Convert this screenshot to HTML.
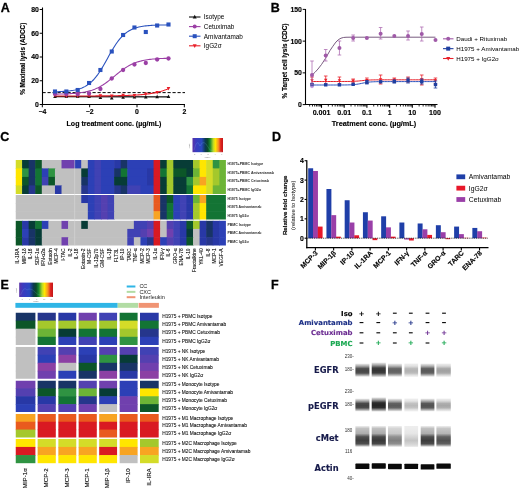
<!DOCTYPE html>
<html><head><meta charset="utf-8"><title>Figure</title>
<style>
html,body{margin:0;padding:0;background:#fff;}
svg{display:block;}
</style></head>
<body>
<svg width="520" height="488" viewBox="0 0 520 488">
<defs>
<linearGradient id="cbar" x1="0" x2="1" y1="0" y2="0">
<stop offset="0" stop-color="#5a32a8"/>
<stop offset="0.12" stop-color="#3a3cc0"/>
<stop offset="0.30" stop-color="#2a48c0"/>
<stop offset="0.42" stop-color="#0c3a50"/>
<stop offset="0.50" stop-color="#0a4a28"/>
<stop offset="0.58" stop-color="#1a8a30"/>
<stop offset="0.68" stop-color="#b8d828"/>
<stop offset="0.75" stop-color="#ffe800"/>
<stop offset="0.85" stop-color="#f89020"/>
<stop offset="0.93" stop-color="#e02020"/>
<stop offset="1" stop-color="#c01818"/>
</linearGradient>
<linearGradient id="bg0" x1="0" x2="0" y1="0" y2="1"><stop offset="0" stop-color="#eeeeee"/><stop offset="0.18" stop-color="#acacac"/><stop offset="0.38" stop-color="#4e4e4e"/><stop offset="0.55" stop-color="#464646"/><stop offset="0.72" stop-color="#505050"/><stop offset="0.88" stop-color="#acacac"/><stop offset="1" stop-color="#f0f0f0"/></linearGradient>
<linearGradient id="bg1" x1="0" x2="0" y1="0" y2="1"><stop offset="0" stop-color="#eeeeee"/><stop offset="0.18" stop-color="#a3a3a3"/><stop offset="0.38" stop-color="#3c3c3c"/><stop offset="0.55" stop-color="#343434"/><stop offset="0.72" stop-color="#3e3e3e"/><stop offset="0.88" stop-color="#a3a3a3"/><stop offset="1" stop-color="#f0f0f0"/></linearGradient>
<linearGradient id="bg2" x1="0" x2="0" y1="0" y2="1"><stop offset="0" stop-color="#eeeeee"/><stop offset="0.18" stop-color="#b9b9b9"/><stop offset="0.38" stop-color="#686868"/><stop offset="0.55" stop-color="#606060"/><stop offset="0.72" stop-color="#6a6a6a"/><stop offset="0.88" stop-color="#b9b9b9"/><stop offset="1" stop-color="#f0f0f0"/></linearGradient>
<linearGradient id="bg3" x1="0" x2="0" y1="0" y2="1"><stop offset="0" stop-color="#eeeeee"/><stop offset="0.18" stop-color="#e2e2e2"/><stop offset="0.38" stop-color="#bababa"/><stop offset="0.55" stop-color="#b2b2b2"/><stop offset="0.72" stop-color="#bcbcbc"/><stop offset="0.88" stop-color="#e2e2e2"/><stop offset="1" stop-color="#f0f0f0"/></linearGradient>
<linearGradient id="bg4" x1="0" x2="0" y1="0" y2="1"><stop offset="0" stop-color="#eeeeee"/><stop offset="0.18" stop-color="#b5b5b5"/><stop offset="0.38" stop-color="#606060"/><stop offset="0.55" stop-color="#585858"/><stop offset="0.72" stop-color="#626262"/><stop offset="0.88" stop-color="#b5b5b5"/><stop offset="1" stop-color="#f0f0f0"/></linearGradient>
<linearGradient id="bg5" x1="0" x2="0" y1="0" y2="1"><stop offset="0" stop-color="#eeeeee"/><stop offset="0.18" stop-color="#d9d9d9"/><stop offset="0.38" stop-color="#a8a8a8"/><stop offset="0.55" stop-color="#a0a0a0"/><stop offset="0.72" stop-color="#aaaaaa"/><stop offset="0.88" stop-color="#d9d9d9"/><stop offset="1" stop-color="#f0f0f0"/></linearGradient>
<linearGradient id="bg10" x1="0" x2="0" y1="0" y2="1"><stop offset="0" stop-color="#eeeeee"/><stop offset="0.18" stop-color="#aaaaaa"/><stop offset="0.38" stop-color="#4a4a4a"/><stop offset="0.55" stop-color="#424242"/><stop offset="0.72" stop-color="#4c4c4c"/><stop offset="0.88" stop-color="#aaaaaa"/><stop offset="1" stop-color="#f0f0f0"/></linearGradient>
<linearGradient id="bg11" x1="0" x2="0" y1="0" y2="1"><stop offset="0" stop-color="#eeeeee"/><stop offset="0.18" stop-color="#9b9b9b"/><stop offset="0.38" stop-color="#2c2c2c"/><stop offset="0.55" stop-color="#242424"/><stop offset="0.72" stop-color="#2e2e2e"/><stop offset="0.88" stop-color="#9b9b9b"/><stop offset="1" stop-color="#f0f0f0"/></linearGradient>
<linearGradient id="bg12" x1="0" x2="0" y1="0" y2="1"><stop offset="0" stop-color="#eeeeee"/><stop offset="0.18" stop-color="#b6b6b6"/><stop offset="0.38" stop-color="#626262"/><stop offset="0.55" stop-color="#5a5a5a"/><stop offset="0.72" stop-color="#646464"/><stop offset="0.88" stop-color="#b6b6b6"/><stop offset="1" stop-color="#f0f0f0"/></linearGradient>
<linearGradient id="bg13" x1="0" x2="0" y1="0" y2="1"><stop offset="0" stop-color="#eeeeee"/><stop offset="0.18" stop-color="#e6e6e6"/><stop offset="0.38" stop-color="#c2c2c2"/><stop offset="0.55" stop-color="#bababa"/><stop offset="0.72" stop-color="#c4c4c4"/><stop offset="0.88" stop-color="#e6e6e6"/><stop offset="1" stop-color="#f0f0f0"/></linearGradient>
<linearGradient id="bg14" x1="0" x2="0" y1="0" y2="1"><stop offset="0" stop-color="#eeeeee"/><stop offset="0.18" stop-color="#b2b2b2"/><stop offset="0.38" stop-color="#5a5a5a"/><stop offset="0.55" stop-color="#525252"/><stop offset="0.72" stop-color="#5c5c5c"/><stop offset="0.88" stop-color="#b2b2b2"/><stop offset="1" stop-color="#f0f0f0"/></linearGradient>
<linearGradient id="bg15" x1="0" x2="0" y1="0" y2="1"><stop offset="0" stop-color="#eeeeee"/><stop offset="0.18" stop-color="#dcdcdc"/><stop offset="0.38" stop-color="#aeaeae"/><stop offset="0.55" stop-color="#a6a6a6"/><stop offset="0.72" stop-color="#b0b0b0"/><stop offset="0.88" stop-color="#dcdcdc"/><stop offset="1" stop-color="#f0f0f0"/></linearGradient>
<linearGradient id="bg20" x1="0" x2="0" y1="0" y2="1"><stop offset="0" stop-color="#eeeeee"/><stop offset="0.12" stop-color="#c1c1c1"/><stop offset="0.36" stop-color="#adadad"/><stop offset="0.52" stop-color="#505050"/><stop offset="0.7" stop-color="#3e3e3e"/><stop offset="0.86" stop-color="#4e4e4e"/><stop offset="1" stop-color="#e6e6e6"/></linearGradient>
<linearGradient id="bg21" x1="0" x2="0" y1="0" y2="1"><stop offset="0" stop-color="#eeeeee"/><stop offset="0.12" stop-color="#bfbfbf"/><stop offset="0.36" stop-color="#ababab"/><stop offset="0.52" stop-color="#4a4a4a"/><stop offset="0.7" stop-color="#383838"/><stop offset="0.86" stop-color="#484848"/><stop offset="1" stop-color="#e6e6e6"/></linearGradient>
<linearGradient id="bg22" x1="0" x2="0" y1="0" y2="1"><stop offset="0" stop-color="#eeeeee"/><stop offset="0.12" stop-color="#d5d5d5"/><stop offset="0.36" stop-color="#c8c8c8"/><stop offset="0.52" stop-color="#909090"/><stop offset="0.7" stop-color="#7e7e7e"/><stop offset="0.86" stop-color="#8e8e8e"/><stop offset="1" stop-color="#e6e6e6"/></linearGradient>
<linearGradient id="bg23" x1="0" x2="0" y1="0" y2="1"><stop offset="0" stop-color="#eeeeee"/><stop offset="0.12" stop-color="#ececec"/><stop offset="0.36" stop-color="#e6e6e6"/><stop offset="0.52" stop-color="#d6d6d6"/><stop offset="0.7" stop-color="#c4c4c4"/><stop offset="0.86" stop-color="#d4d4d4"/><stop offset="1" stop-color="#e6e6e6"/></linearGradient>
<linearGradient id="bg24" x1="0" x2="0" y1="0" y2="1"><stop offset="0" stop-color="#eeeeee"/><stop offset="0.12" stop-color="#c0c0c0"/><stop offset="0.36" stop-color="#adadad"/><stop offset="0.52" stop-color="#4e4e4e"/><stop offset="0.7" stop-color="#3c3c3c"/><stop offset="0.86" stop-color="#4c4c4c"/><stop offset="1" stop-color="#e6e6e6"/></linearGradient>
<linearGradient id="bg25" x1="0" x2="0" y1="0" y2="1"><stop offset="0" stop-color="#eeeeee"/><stop offset="0.12" stop-color="#c7c7c7"/><stop offset="0.36" stop-color="#b5b5b5"/><stop offset="0.52" stop-color="#626262"/><stop offset="0.7" stop-color="#505050"/><stop offset="0.86" stop-color="#606060"/><stop offset="1" stop-color="#e6e6e6"/></linearGradient>

<clipPath id="clp1"><rect x="15.50" y="159.90" width="210.40" height="34.00"/></clipPath>
<clipPath id="clp2"><rect x="15.50" y="194.90" width="210.40" height="24.50"/></clipPath>
<clipPath id="clp3"><rect x="15.50" y="220.60" width="210.40" height="24.90"/></clipPath>
<clipPath id="clp4"><rect x="15.50" y="312.50" width="19.90" height="32.40"/><rect x="37.40" y="312.50" width="18.40" height="32.40"/><rect x="58.20" y="312.50" width="18.10" height="32.40"/><rect x="78.40" y="312.50" width="18.40" height="32.40"/><rect x="99.10" y="312.50" width="18.00" height="32.40"/><rect x="119.40" y="312.50" width="18.20" height="32.40"/><rect x="140.00" y="312.50" width="18.70" height="32.40"/></clipPath>
<clipPath id="clp5"><rect x="15.50" y="346.80" width="19.90" height="32.00"/><rect x="37.40" y="346.80" width="18.40" height="32.00"/><rect x="58.20" y="346.80" width="18.10" height="32.00"/><rect x="78.40" y="346.80" width="18.40" height="32.00"/><rect x="99.10" y="346.80" width="18.00" height="32.00"/><rect x="119.40" y="346.80" width="18.20" height="32.00"/><rect x="140.00" y="346.80" width="18.70" height="32.00"/></clipPath>
<clipPath id="clp6"><rect x="15.50" y="380.50" width="19.90" height="31.50"/><rect x="37.40" y="380.50" width="18.40" height="31.50"/><rect x="58.20" y="380.50" width="18.10" height="31.50"/><rect x="78.40" y="380.50" width="18.40" height="31.50"/><rect x="99.10" y="380.50" width="18.00" height="31.50"/><rect x="119.40" y="380.50" width="18.20" height="31.50"/><rect x="140.00" y="380.50" width="18.70" height="31.50"/></clipPath>
<clipPath id="clp7"><rect x="15.50" y="413.90" width="19.90" height="23.50"/><rect x="37.40" y="413.90" width="18.40" height="23.50"/><rect x="58.20" y="413.90" width="18.10" height="23.50"/><rect x="78.40" y="413.90" width="18.40" height="23.50"/><rect x="99.10" y="413.90" width="18.00" height="23.50"/><rect x="119.40" y="413.90" width="18.20" height="23.50"/><rect x="140.00" y="413.90" width="18.70" height="23.50"/></clipPath>
<clipPath id="clp8"><rect x="15.50" y="438.80" width="19.90" height="24.40"/><rect x="37.40" y="438.80" width="18.40" height="24.40"/><rect x="58.20" y="438.80" width="18.10" height="24.40"/><rect x="78.40" y="438.80" width="18.40" height="24.40"/><rect x="99.10" y="438.80" width="18.00" height="24.40"/><rect x="119.40" y="438.80" width="18.20" height="24.40"/><rect x="140.00" y="438.80" width="18.70" height="24.40"/></clipPath>
</defs>
<rect width="520" height="488" fill="#fff"/>
<text transform="translate(0.70,11.50) scale(0.2375,0.2500)" font-family='"Liberation Sans", sans-serif' font-size="52.80" font-weight="bold" fill="#000" text-anchor="start" stroke="#000" stroke-width="1.2">A</text>
<line x1="42.50" y1="7.50" x2="42.50" y2="105.00" stroke="#000" stroke-width="1.1" />
<line x1="42.00" y1="104.50" x2="185.00" y2="104.50" stroke="#000" stroke-width="1.1" />
<line x1="39.70" y1="104.50" x2="42.50" y2="104.50" stroke="#000" stroke-width="1" />
<text transform="translate(38.90,106.95) scale(0.2500,0.2500)" font-family='"Liberation Sans", sans-serif' font-size="27.60" font-weight="bold" fill="#000" text-anchor="end"  stroke="#000" stroke-width="0.55">0</text>
<line x1="39.70" y1="80.75" x2="42.50" y2="80.75" stroke="#000" stroke-width="1" />
<text transform="translate(38.90,83.20) scale(0.2500,0.2500)" font-family='"Liberation Sans", sans-serif' font-size="27.60" font-weight="bold" fill="#000" text-anchor="end"  stroke="#000" stroke-width="0.55">20</text>
<line x1="39.70" y1="57.00" x2="42.50" y2="57.00" stroke="#000" stroke-width="1" />
<text transform="translate(38.90,59.45) scale(0.2500,0.2500)" font-family='"Liberation Sans", sans-serif' font-size="27.60" font-weight="bold" fill="#000" text-anchor="end"  stroke="#000" stroke-width="0.55">40</text>
<line x1="39.70" y1="33.25" x2="42.50" y2="33.25" stroke="#000" stroke-width="1" />
<text transform="translate(38.90,35.70) scale(0.2500,0.2500)" font-family='"Liberation Sans", sans-serif' font-size="27.60" font-weight="bold" fill="#000" text-anchor="end"  stroke="#000" stroke-width="0.55">60</text>
<line x1="39.70" y1="9.50" x2="42.50" y2="9.50" stroke="#000" stroke-width="1" />
<text transform="translate(38.90,11.95) scale(0.2500,0.2500)" font-family='"Liberation Sans", sans-serif' font-size="27.60" font-weight="bold" fill="#000" text-anchor="end"  stroke="#000" stroke-width="0.55">80</text>
<line x1="42.32" y1="104.50" x2="42.32" y2="107.30" stroke="#000" stroke-width="1" />
<text transform="translate(42.32,113.80) scale(0.2500,0.2500)" font-family='"Liberation Sans", sans-serif' font-size="27.60" font-weight="bold" fill="#000" text-anchor="middle"  stroke="#000" stroke-width="0.55">−4</text>
<line x1="89.66" y1="104.50" x2="89.66" y2="107.30" stroke="#000" stroke-width="1" />
<text transform="translate(89.66,113.80) scale(0.2500,0.2500)" font-family='"Liberation Sans", sans-serif' font-size="27.60" font-weight="bold" fill="#000" text-anchor="middle"  stroke="#000" stroke-width="0.55">−2</text>
<line x1="137.00" y1="104.50" x2="137.00" y2="107.30" stroke="#000" stroke-width="1" />
<text transform="translate(137.00,113.80) scale(0.2500,0.2500)" font-family='"Liberation Sans", sans-serif' font-size="27.60" font-weight="bold" fill="#000" text-anchor="middle"  stroke="#000" stroke-width="0.55">0</text>
<line x1="184.34" y1="104.50" x2="184.34" y2="107.30" stroke="#000" stroke-width="1" />
<text transform="translate(184.34,113.80) scale(0.2500,0.2500)" font-family='"Liberation Sans", sans-serif' font-size="27.60" font-weight="bold" fill="#000" text-anchor="middle"  stroke="#000" stroke-width="0.55">2</text>
<text transform="translate(114.00,125.50) scale(0.2500,0.2500)" font-family='"Liberation Sans", sans-serif' font-size="28.20" font-weight="bold" fill="#000" text-anchor="middle"  stroke="#000" stroke-width="0.55">Log treatment conc. (µg/mL)</text>
<text transform="translate(25.20,58.80) rotate(-90) scale(0.2500,0.2500)" font-family='"Liberation Sans", sans-serif' font-size="25.20" font-weight="bold" fill="#000" text-anchor="middle"  stroke="#000" stroke-width="0.55">% Maximal lysis (ADCC)</text>
<line x1="42.50" y1="92.62" x2="185.00" y2="92.62" stroke="#000" stroke-width="1" stroke-dasharray="3.2 1.8"/>
<polyline points="55.00,91.76 56.42,91.72 57.84,91.68 59.26,91.63 60.67,91.57 62.09,91.49 63.51,91.41 64.93,91.32 66.35,91.20 67.77,91.08 69.19,90.93 70.61,90.75 72.03,90.55 73.44,90.32 74.86,90.05 76.28,89.74 77.70,89.38 79.12,88.97 80.54,88.49 81.96,87.95 83.38,87.33 84.79,86.62 86.21,85.81 87.63,84.90 89.05,83.88 90.47,82.72 91.89,81.43 93.31,80.00 94.72,78.42 96.14,76.70 97.56,74.82 98.98,72.80 100.40,70.64 101.82,68.36 103.24,65.97 104.66,63.50 106.08,60.97 107.49,58.41 108.91,55.85 110.33,53.32 111.75,50.85 113.17,48.47 114.59,46.18 116.01,44.02 117.42,42.00 118.84,40.12 120.26,38.39 121.68,36.81 123.10,35.38 124.52,34.09 125.94,32.93 127.36,31.91 128.78,30.99 130.19,30.19 131.61,29.48 133.03,28.86 134.45,28.31 135.87,27.84 137.29,27.42 138.71,27.07 140.12,26.75 141.54,26.48 142.96,26.25 144.38,26.05 145.80,25.88 147.22,25.73 148.64,25.60 150.06,25.48 151.47,25.39 152.89,25.31 154.31,25.23 155.73,25.17 157.15,25.12 158.57,25.08 159.99,25.04 161.41,25.00 162.82,24.97 164.24,24.95 165.66,24.93 167.08,24.91 168.50,24.90" fill="none" stroke="#2a52be" stroke-width="1.1" />
<polyline points="55.00,94.14 56.42,94.12 57.84,94.09 59.26,94.06 60.67,94.03 62.09,93.99 63.51,93.95 64.93,93.90 66.35,93.85 67.77,93.79 69.19,93.72 70.61,93.64 72.03,93.55 73.44,93.45 74.86,93.34 76.28,93.21 77.70,93.06 79.12,92.90 80.54,92.72 81.96,92.51 83.38,92.28 84.79,92.02 86.21,91.72 87.63,91.40 89.05,91.03 90.47,90.63 91.89,90.18 93.31,89.69 94.72,89.14 96.14,88.54 97.56,87.89 98.98,87.18 100.40,86.41 101.82,85.59 103.24,84.71 104.66,83.77 106.08,82.78 107.49,81.74 108.91,80.66 110.33,79.55 111.75,78.41 113.17,77.25 114.59,76.08 116.01,74.91 117.42,73.75 118.84,72.61 120.26,71.50 121.68,70.43 123.10,69.40 124.52,68.41 125.94,67.48 127.36,66.61 128.78,65.79 130.19,65.03 131.61,64.33 133.03,63.68 134.45,63.09 135.87,62.55 137.29,62.06 138.71,61.62 140.12,61.22 141.54,60.86 142.96,60.54 144.38,60.25 145.80,59.99 147.22,59.76 148.64,59.56 150.06,59.38 151.47,59.22 152.89,59.07 154.31,58.95 155.73,58.84 157.15,58.74 158.57,58.65 159.99,58.57 161.41,58.50 162.82,58.44 164.24,58.39 165.66,58.34 167.08,58.30 168.50,58.27" fill="none" stroke="#9b3fa5" stroke-width="1.1" />
<polyline points="55.00,96.60 168.50,96.90" fill="none" stroke="#111" stroke-width="1.1" />
<polyline points="55.00,95.99 56.42,95.99 57.84,95.99 59.26,95.99 60.67,95.99 62.09,95.99 63.51,95.99 64.93,95.99 66.35,95.99 67.77,95.99 69.19,95.98 70.61,95.98 72.03,95.98 73.44,95.98 74.86,95.98 76.28,95.98 77.70,95.97 79.12,95.97 80.54,95.97 81.96,95.97 83.38,95.96 84.79,95.96 86.21,95.96 87.63,95.95 89.05,95.95 90.47,95.94 91.89,95.94 93.31,95.93 94.72,95.93 96.14,95.92 97.56,95.91 98.98,95.90 100.40,95.89 101.82,95.88 103.24,95.87 104.66,95.86 106.08,95.85 107.49,95.83 108.91,95.82 110.33,95.80 111.75,95.78 113.17,95.76 114.59,95.74 116.01,95.72 117.42,95.69 118.84,95.66 120.26,95.63 121.68,95.60 123.10,95.56 124.52,95.52 125.94,95.48 127.36,95.43 128.78,95.37 130.19,95.32 131.61,95.25 133.03,95.18 134.45,95.11 135.87,95.02 137.29,94.93 138.71,94.83 140.12,94.73 141.54,94.61 142.96,94.48 144.38,94.34 145.80,94.18 147.22,94.02 148.64,93.83 150.06,93.63 151.47,93.41 152.89,93.17 154.31,92.91 155.73,92.62 157.15,92.31 158.57,91.97 159.99,91.59 161.41,91.19 162.82,90.74 164.24,90.25 165.66,89.72 167.08,89.14 168.50,88.50" fill="none" stroke="#e8202a" stroke-width="1.1" />
<polygon points="55.00,94.52 53.20,97.94 56.80,97.94" fill="#111"/>
<polygon points="66.35,94.32 64.55,97.74 68.15,97.74" fill="#111"/>
<polygon points="77.70,94.32 75.90,97.74 79.50,97.74" fill="#111"/>
<polygon points="89.05,94.52 87.25,97.94 90.85,97.94" fill="#111"/>
<polygon points="100.40,95.52 98.60,98.94 102.20,98.94" fill="#111"/>
<polygon points="111.75,96.02 109.95,99.44 113.55,99.44" fill="#111"/>
<polygon points="123.10,95.32 121.30,98.74 124.90,98.74" fill="#111"/>
<polygon points="134.45,95.02 132.65,98.44 136.25,98.44" fill="#111"/>
<polygon points="145.80,95.02 144.00,98.44 147.60,98.44" fill="#111"/>
<polygon points="157.15,94.72 155.35,98.14 158.95,98.14" fill="#111"/>
<polygon points="168.50,94.52 166.70,97.94 170.30,97.94" fill="#111"/>
<polygon points="55.00,97.48 53.20,94.06 56.80,94.06" fill="#e8202a"/>
<polygon points="66.35,97.98 64.55,94.56 68.15,94.56" fill="#e8202a"/>
<polygon points="77.70,97.98 75.90,94.56 79.50,94.56" fill="#e8202a"/>
<polygon points="89.05,97.98 87.25,94.56 90.85,94.56" fill="#e8202a"/>
<polygon points="100.40,97.78 98.60,94.36 102.20,94.36" fill="#e8202a"/>
<polygon points="111.75,97.98 109.95,94.56 113.55,94.56" fill="#e8202a"/>
<polygon points="123.10,97.18 121.30,93.76 124.90,93.76" fill="#e8202a"/>
<polygon points="134.45,97.48 132.65,94.06 136.25,94.06" fill="#e8202a"/>
<polygon points="145.80,95.98 144.00,92.56 147.60,92.56" fill="#e8202a"/>
<polygon points="157.15,94.48 155.35,91.06 158.95,91.06" fill="#e8202a"/>
<polygon points="168.50,90.48 166.70,87.06 170.30,87.06" fill="#e8202a"/>
<circle cx="55.00" cy="94.00" r="2.15" fill="#9b3fa5"/>
<circle cx="66.35" cy="94.00" r="2.15" fill="#9b3fa5"/>
<circle cx="77.70" cy="94.00" r="2.15" fill="#9b3fa5"/>
<circle cx="89.05" cy="93.50" r="2.15" fill="#9b3fa5"/>
<circle cx="100.40" cy="89.00" r="2.15" fill="#9b3fa5"/>
<circle cx="111.75" cy="78.50" r="2.15" fill="#9b3fa5"/>
<circle cx="123.10" cy="70.00" r="2.15" fill="#9b3fa5"/>
<circle cx="134.45" cy="64.50" r="2.15" fill="#9b3fa5"/>
<circle cx="145.80" cy="63.00" r="2.15" fill="#9b3fa5"/>
<circle cx="157.15" cy="59.50" r="2.15" fill="#9b3fa5"/>
<circle cx="168.50" cy="58.50" r="2.15" fill="#9b3fa5"/>
<rect x="52.95" y="89.45" width="4.10" height="4.10" fill="#2a52be" />
<rect x="64.30" y="89.45" width="4.10" height="4.10" fill="#2a52be" />
<rect x="75.65" y="87.95" width="4.10" height="4.10" fill="#2a52be" />
<rect x="87.00" y="80.95" width="4.10" height="4.10" fill="#2a52be" />
<rect x="98.35" y="67.95" width="4.10" height="4.10" fill="#2a52be" />
<rect x="109.70" y="49.45" width="4.10" height="4.10" fill="#2a52be" />
<rect x="121.05" y="32.95" width="4.10" height="4.10" fill="#2a52be" />
<rect x="132.40" y="25.45" width="4.10" height="4.10" fill="#2a52be" />
<rect x="143.75" y="29.95" width="4.10" height="4.10" fill="#2a52be" />
<rect x="155.10" y="23.45" width="4.10" height="4.10" fill="#2a52be" />
<rect x="166.45" y="22.45" width="4.10" height="4.10" fill="#2a52be" />
<line x1="189.00" y1="17.00" x2="200.50" y2="17.00" stroke="#111" stroke-width="1.1" />
<polygon points="194.70,14.80 192.70,18.60 196.70,18.60" fill="#111"/>
<text transform="translate(203.80,19.30) scale(0.2500,0.2500)" font-family='"Liberation Sans", sans-serif' font-size="25.60" font-weight="normal" fill="#000" text-anchor="start" >Isotype</text>
<line x1="189.00" y1="26.60" x2="200.50" y2="26.60" stroke="#9b3fa5" stroke-width="1.1" />
<circle cx="194.70" cy="26.60" r="2.00" fill="#9b3fa5"/>
<text transform="translate(203.80,28.90) scale(0.2500,0.2500)" font-family='"Liberation Sans", sans-serif' font-size="25.60" font-weight="normal" fill="#000" text-anchor="start" >Cetuximab</text>
<line x1="189.00" y1="36.20" x2="200.50" y2="36.20" stroke="#2a52be" stroke-width="1.1" />
<rect x="192.70" y="34.20" width="4.00" height="4.00" fill="#2a52be" />
<text transform="translate(203.80,38.50) scale(0.2500,0.2500)" font-family='"Liberation Sans", sans-serif' font-size="25.60" font-weight="normal" fill="#000" text-anchor="start" >Amivantamab</text>
<line x1="189.00" y1="45.80" x2="200.50" y2="45.80" stroke="#e8202a" stroke-width="1.1" />
<polygon points="194.70,48.00 192.70,44.20 196.70,44.20" fill="#e8202a"/>
<text transform="translate(203.80,48.10) scale(0.2500,0.2500)" font-family='"Liberation Sans", sans-serif' font-size="25.60" font-weight="normal" fill="#000" text-anchor="start" >IgG2σ</text>
<text transform="translate(270.70,11.50) scale(0.2375,0.2500)" font-family='"Liberation Sans", sans-serif' font-size="52.80" font-weight="bold" fill="#000" text-anchor="start" stroke="#000" stroke-width="1.2">B</text>
<line x1="305.50" y1="9.00" x2="305.50" y2="105.00" stroke="#000" stroke-width="1.1" />
<line x1="305.00" y1="104.50" x2="437.50" y2="104.50" stroke="#000" stroke-width="1.1" />
<line x1="302.70" y1="104.60" x2="305.50" y2="104.60" stroke="#000" stroke-width="1" />
<text transform="translate(301.90,107.05) scale(0.2500,0.2500)" font-family='"Liberation Sans", sans-serif' font-size="27.60" font-weight="bold" fill="#000" text-anchor="end"  stroke="#000" stroke-width="0.55">0</text>
<line x1="302.70" y1="72.86" x2="305.50" y2="72.86" stroke="#000" stroke-width="1" />
<text transform="translate(301.90,75.31) scale(0.2500,0.2500)" font-family='"Liberation Sans", sans-serif' font-size="27.60" font-weight="bold" fill="#000" text-anchor="end"  stroke="#000" stroke-width="0.55">50</text>
<line x1="302.70" y1="41.13" x2="305.50" y2="41.13" stroke="#000" stroke-width="1" />
<text transform="translate(301.90,43.58) scale(0.2500,0.2500)" font-family='"Liberation Sans", sans-serif' font-size="27.60" font-weight="bold" fill="#000" text-anchor="end"  stroke="#000" stroke-width="0.55">100</text>
<line x1="302.70" y1="9.39" x2="305.50" y2="9.39" stroke="#000" stroke-width="1" />
<text transform="translate(301.90,11.84) scale(0.2500,0.2500)" font-family='"Liberation Sans", sans-serif' font-size="27.60" font-weight="bold" fill="#000" text-anchor="end"  stroke="#000" stroke-width="0.55">150</text>
<line x1="321.50" y1="104.50" x2="321.50" y2="107.80" stroke="#000" stroke-width="1.1" />
<text transform="translate(321.50,115.00) scale(0.2500,0.2500)" font-family='"Liberation Sans", sans-serif' font-size="28.40" font-weight="bold" fill="#000" text-anchor="middle"  stroke="#000" stroke-width="0.55">0.001</text>
<line x1="344.20" y1="104.50" x2="344.20" y2="107.80" stroke="#000" stroke-width="1.1" />
<text transform="translate(344.20,115.00) scale(0.2500,0.2500)" font-family='"Liberation Sans", sans-serif' font-size="28.40" font-weight="bold" fill="#000" text-anchor="middle"  stroke="#000" stroke-width="0.55">0.01</text>
<line x1="366.90" y1="104.50" x2="366.90" y2="107.80" stroke="#000" stroke-width="1.1" />
<text transform="translate(366.90,115.00) scale(0.2500,0.2500)" font-family='"Liberation Sans", sans-serif' font-size="28.40" font-weight="bold" fill="#000" text-anchor="middle"  stroke="#000" stroke-width="0.55">0.1</text>
<line x1="389.60" y1="104.50" x2="389.60" y2="107.80" stroke="#000" stroke-width="1.1" />
<text transform="translate(389.60,115.00) scale(0.2500,0.2500)" font-family='"Liberation Sans", sans-serif' font-size="28.40" font-weight="bold" fill="#000" text-anchor="middle"  stroke="#000" stroke-width="0.55">1</text>
<line x1="412.30" y1="104.50" x2="412.30" y2="107.80" stroke="#000" stroke-width="1.1" />
<text transform="translate(412.30,115.00) scale(0.2500,0.2500)" font-family='"Liberation Sans", sans-serif' font-size="28.40" font-weight="bold" fill="#000" text-anchor="middle"  stroke="#000" stroke-width="0.55">10</text>
<line x1="435.00" y1="104.50" x2="435.00" y2="107.80" stroke="#000" stroke-width="1.1" />
<text transform="translate(435.00,115.00) scale(0.2500,0.2500)" font-family='"Liberation Sans", sans-serif' font-size="28.40" font-weight="bold" fill="#000" text-anchor="middle"  stroke="#000" stroke-width="0.55">100</text>
<line x1="309.63" y1="104.50" x2="309.63" y2="106.50" stroke="#000" stroke-width="0.85" />
<line x1="312.47" y1="104.50" x2="312.47" y2="106.50" stroke="#000" stroke-width="0.85" />
<line x1="314.67" y1="104.50" x2="314.67" y2="106.50" stroke="#000" stroke-width="0.85" />
<line x1="316.46" y1="104.50" x2="316.46" y2="106.50" stroke="#000" stroke-width="0.85" />
<line x1="317.98" y1="104.50" x2="317.98" y2="106.50" stroke="#000" stroke-width="0.85" />
<line x1="319.30" y1="104.50" x2="319.30" y2="106.50" stroke="#000" stroke-width="0.85" />
<line x1="320.46" y1="104.50" x2="320.46" y2="106.50" stroke="#000" stroke-width="0.85" />
<line x1="328.33" y1="104.50" x2="328.33" y2="106.50" stroke="#000" stroke-width="0.85" />
<line x1="332.33" y1="104.50" x2="332.33" y2="106.50" stroke="#000" stroke-width="0.85" />
<line x1="335.17" y1="104.50" x2="335.17" y2="106.50" stroke="#000" stroke-width="0.85" />
<line x1="337.37" y1="104.50" x2="337.37" y2="106.50" stroke="#000" stroke-width="0.85" />
<line x1="339.16" y1="104.50" x2="339.16" y2="106.50" stroke="#000" stroke-width="0.85" />
<line x1="340.68" y1="104.50" x2="340.68" y2="106.50" stroke="#000" stroke-width="0.85" />
<line x1="342.00" y1="104.50" x2="342.00" y2="106.50" stroke="#000" stroke-width="0.85" />
<line x1="343.16" y1="104.50" x2="343.16" y2="106.50" stroke="#000" stroke-width="0.85" />
<line x1="351.03" y1="104.50" x2="351.03" y2="106.50" stroke="#000" stroke-width="0.85" />
<line x1="355.03" y1="104.50" x2="355.03" y2="106.50" stroke="#000" stroke-width="0.85" />
<line x1="357.87" y1="104.50" x2="357.87" y2="106.50" stroke="#000" stroke-width="0.85" />
<line x1="360.07" y1="104.50" x2="360.07" y2="106.50" stroke="#000" stroke-width="0.85" />
<line x1="361.86" y1="104.50" x2="361.86" y2="106.50" stroke="#000" stroke-width="0.85" />
<line x1="363.38" y1="104.50" x2="363.38" y2="106.50" stroke="#000" stroke-width="0.85" />
<line x1="364.70" y1="104.50" x2="364.70" y2="106.50" stroke="#000" stroke-width="0.85" />
<line x1="365.86" y1="104.50" x2="365.86" y2="106.50" stroke="#000" stroke-width="0.85" />
<line x1="373.73" y1="104.50" x2="373.73" y2="106.50" stroke="#000" stroke-width="0.85" />
<line x1="377.73" y1="104.50" x2="377.73" y2="106.50" stroke="#000" stroke-width="0.85" />
<line x1="380.57" y1="104.50" x2="380.57" y2="106.50" stroke="#000" stroke-width="0.85" />
<line x1="382.77" y1="104.50" x2="382.77" y2="106.50" stroke="#000" stroke-width="0.85" />
<line x1="384.56" y1="104.50" x2="384.56" y2="106.50" stroke="#000" stroke-width="0.85" />
<line x1="386.08" y1="104.50" x2="386.08" y2="106.50" stroke="#000" stroke-width="0.85" />
<line x1="387.40" y1="104.50" x2="387.40" y2="106.50" stroke="#000" stroke-width="0.85" />
<line x1="388.56" y1="104.50" x2="388.56" y2="106.50" stroke="#000" stroke-width="0.85" />
<line x1="396.43" y1="104.50" x2="396.43" y2="106.50" stroke="#000" stroke-width="0.85" />
<line x1="400.43" y1="104.50" x2="400.43" y2="106.50" stroke="#000" stroke-width="0.85" />
<line x1="403.27" y1="104.50" x2="403.27" y2="106.50" stroke="#000" stroke-width="0.85" />
<line x1="405.47" y1="104.50" x2="405.47" y2="106.50" stroke="#000" stroke-width="0.85" />
<line x1="407.26" y1="104.50" x2="407.26" y2="106.50" stroke="#000" stroke-width="0.85" />
<line x1="408.78" y1="104.50" x2="408.78" y2="106.50" stroke="#000" stroke-width="0.85" />
<line x1="410.10" y1="104.50" x2="410.10" y2="106.50" stroke="#000" stroke-width="0.85" />
<line x1="411.26" y1="104.50" x2="411.26" y2="106.50" stroke="#000" stroke-width="0.85" />
<line x1="419.13" y1="104.50" x2="419.13" y2="106.50" stroke="#000" stroke-width="0.85" />
<line x1="423.13" y1="104.50" x2="423.13" y2="106.50" stroke="#000" stroke-width="0.85" />
<line x1="425.97" y1="104.50" x2="425.97" y2="106.50" stroke="#000" stroke-width="0.85" />
<line x1="428.17" y1="104.50" x2="428.17" y2="106.50" stroke="#000" stroke-width="0.85" />
<line x1="429.96" y1="104.50" x2="429.96" y2="106.50" stroke="#000" stroke-width="0.85" />
<line x1="431.48" y1="104.50" x2="431.48" y2="106.50" stroke="#000" stroke-width="0.85" />
<line x1="432.80" y1="104.50" x2="432.80" y2="106.50" stroke="#000" stroke-width="0.85" />
<line x1="433.96" y1="104.50" x2="433.96" y2="106.50" stroke="#000" stroke-width="0.85" />
<text transform="translate(374.00,125.60) scale(0.2500,0.2500)" font-family='"Liberation Sans", sans-serif' font-size="29.20" font-weight="bold" fill="#000" text-anchor="middle"  stroke="#000" stroke-width="0.55">Treatment conc. (µg/mL)</text>
<text transform="translate(287.30,61.00) rotate(-90) scale(0.2500,0.2500)" font-family='"Liberation Sans", sans-serif' font-size="25.60" font-weight="bold" fill="#000" text-anchor="middle"  stroke="#000" stroke-width="0.55">% Target cell lysis (CDC)</text>
<polyline points="312.30,74.90 315.00,72.30 318.00,69.00 321.50,64.50 325.40,58.50 328.00,54.00 330.00,50.50 332.50,46.80 335.20,43.00 337.00,40.90 339.00,39.30 341.00,38.20 343.40,37.50 346.00,37.25 350.00,37.20 435.48,37.20" fill="none" stroke="#6a4a72" stroke-width="0.9" stroke-linejoin="round"/>
<polyline points="312.00,81.50 313.54,81.50 315.09,81.50 316.63,81.50 318.17,81.50 319.72,81.50 321.26,81.50 322.80,81.50 324.35,81.50 325.89,81.50 327.44,81.50 328.98,81.50 330.52,81.50 332.07,81.50 333.61,81.50 335.15,81.50 336.70,81.50 338.24,81.50 339.78,81.49 341.33,81.49 342.87,81.49 344.41,81.48 345.96,81.47 347.50,81.46 349.04,81.44 350.59,81.41 352.13,81.37 353.67,81.31 355.22,81.24 356.76,81.14 358.31,81.02 359.85,80.87 361.39,80.71 362.94,80.55 364.48,80.39 366.02,80.26 367.57,80.14 369.11,80.05 370.65,79.98 372.20,79.92 373.74,79.89 375.28,79.86 376.83,79.84 378.37,79.83 379.91,79.82 381.46,79.81 383.00,79.81 384.54,79.81 386.09,79.80 387.63,79.80 389.18,79.80 390.72,79.80 392.26,79.80 393.81,79.80 395.35,79.80 396.89,79.80 398.44,79.80 399.98,79.80 401.52,79.80 403.07,79.80 404.61,79.80 406.15,79.80 407.70,79.80 409.24,79.80 410.78,79.80 412.33,79.80 413.87,79.80 415.41,79.80 416.96,79.80 418.50,79.80 420.05,79.80 421.59,79.80 423.13,79.80 424.68,79.80 426.22,79.80 427.76,79.80 429.31,79.80 430.85,79.80 432.39,79.80 433.94,79.80 435.48,79.80" fill="none" stroke="#e8202a" stroke-width="1.0" />
<polyline points="312.00,85.00 313.54,85.00 315.09,85.00 316.63,85.00 318.17,85.00 319.72,85.00 321.26,85.00 322.80,85.00 324.35,85.00 325.89,85.00 327.44,85.00 328.98,85.00 330.52,85.00 332.07,85.00 333.61,85.00 335.15,85.00 336.70,84.99 338.24,84.99 339.78,84.99 341.33,84.98 342.87,84.97 344.41,84.96 345.96,84.94 347.50,84.91 349.04,84.87 350.59,84.81 352.13,84.73 353.67,84.62 355.22,84.47 356.76,84.28 358.31,84.03 359.85,83.75 361.39,83.43 362.94,83.10 364.48,82.79 366.02,82.51 367.57,82.28 369.11,82.09 370.65,81.95 372.20,81.85 373.74,81.77 375.28,81.72 376.83,81.68 378.37,81.66 379.91,81.64 381.46,81.63 383.00,81.62 384.54,81.61 386.09,81.61 387.63,81.61 389.18,81.60 390.72,81.60 392.26,81.60 393.81,81.60 395.35,81.60 396.89,81.60 398.44,81.60 399.98,81.60 401.52,81.60 403.07,81.60 404.61,81.60 406.15,81.60 407.70,81.60 409.24,81.60 410.78,81.60 412.33,81.60 413.87,81.60 415.41,81.60 416.96,81.60 418.50,81.60 420.05,81.60 421.59,81.60 423.13,81.60 424.68,81.60 426.22,81.60 427.76,81.60 429.31,81.60 430.85,81.60 432.39,81.60 433.94,81.60 435.48,81.60" fill="none" stroke="#2a52be" stroke-width="1.0" />
<circle cx="312.00" cy="86.5" r="1.8" fill="#c9a0e0"/>
<line x1="312.00" y1="77.00" x2="312.00" y2="84.00" stroke="#e8202a" stroke-width="0.8" />
<line x1="310.20" y1="77.00" x2="313.80" y2="77.00" stroke="#e8202a" stroke-width="0.8" />
<line x1="310.20" y1="84.00" x2="313.80" y2="84.00" stroke="#e8202a" stroke-width="0.8" />
<polygon points="312.00,82.37 310.30,79.14 313.70,79.14" fill="#e8202a"/>
<line x1="325.72" y1="76.00" x2="325.72" y2="84.00" stroke="#e8202a" stroke-width="0.8" />
<line x1="323.92" y1="76.00" x2="327.52" y2="76.00" stroke="#e8202a" stroke-width="0.8" />
<line x1="323.92" y1="84.00" x2="327.52" y2="84.00" stroke="#e8202a" stroke-width="0.8" />
<polygon points="325.72,82.07 324.02,78.84 327.42,78.84" fill="#e8202a"/>
<line x1="339.44" y1="77.00" x2="339.44" y2="84.00" stroke="#e8202a" stroke-width="0.8" />
<line x1="337.64" y1="77.00" x2="341.24" y2="77.00" stroke="#e8202a" stroke-width="0.8" />
<line x1="337.64" y1="84.00" x2="341.24" y2="84.00" stroke="#e8202a" stroke-width="0.8" />
<polygon points="339.44,82.37 337.74,79.14 341.14,79.14" fill="#e8202a"/>
<line x1="353.16" y1="79.00" x2="353.16" y2="83.00" stroke="#e8202a" stroke-width="0.8" />
<line x1="351.36" y1="79.00" x2="354.96" y2="79.00" stroke="#e8202a" stroke-width="0.8" />
<line x1="351.36" y1="83.00" x2="354.96" y2="83.00" stroke="#e8202a" stroke-width="0.8" />
<polygon points="353.16,82.67 351.46,79.44 354.86,79.44" fill="#e8202a"/>
<line x1="366.88" y1="78.00" x2="366.88" y2="83.00" stroke="#e8202a" stroke-width="0.8" />
<line x1="365.08" y1="78.00" x2="368.68" y2="78.00" stroke="#e8202a" stroke-width="0.8" />
<line x1="365.08" y1="83.00" x2="368.68" y2="83.00" stroke="#e8202a" stroke-width="0.8" />
<polygon points="366.88,82.17 365.18,78.94 368.58,78.94" fill="#e8202a"/>
<line x1="380.60" y1="75.00" x2="380.60" y2="84.00" stroke="#e8202a" stroke-width="0.8" />
<line x1="378.80" y1="75.00" x2="382.40" y2="75.00" stroke="#e8202a" stroke-width="0.8" />
<line x1="378.80" y1="84.00" x2="382.40" y2="84.00" stroke="#e8202a" stroke-width="0.8" />
<polygon points="380.60,81.37 378.90,78.14 382.30,78.14" fill="#e8202a"/>
<line x1="394.32" y1="78.00" x2="394.32" y2="82.00" stroke="#e8202a" stroke-width="0.8" />
<line x1="392.52" y1="78.00" x2="396.12" y2="78.00" stroke="#e8202a" stroke-width="0.8" />
<line x1="392.52" y1="82.00" x2="396.12" y2="82.00" stroke="#e8202a" stroke-width="0.8" />
<polygon points="394.32,81.67 392.62,78.44 396.02,78.44" fill="#e8202a"/>
<line x1="408.04" y1="77.00" x2="408.04" y2="82.00" stroke="#e8202a" stroke-width="0.8" />
<line x1="406.24" y1="77.00" x2="409.84" y2="77.00" stroke="#e8202a" stroke-width="0.8" />
<line x1="406.24" y1="82.00" x2="409.84" y2="82.00" stroke="#e8202a" stroke-width="0.8" />
<polygon points="408.04,81.37 406.34,78.14 409.74,78.14" fill="#e8202a"/>
<line x1="421.76" y1="75.00" x2="421.76" y2="85.00" stroke="#e8202a" stroke-width="0.8" />
<line x1="419.96" y1="75.00" x2="423.56" y2="75.00" stroke="#e8202a" stroke-width="0.8" />
<line x1="419.96" y1="85.00" x2="423.56" y2="85.00" stroke="#e8202a" stroke-width="0.8" />
<polygon points="421.76,81.37 420.06,78.14 423.46,78.14" fill="#e8202a"/>
<line x1="435.48" y1="78.00" x2="435.48" y2="84.00" stroke="#e8202a" stroke-width="0.8" />
<line x1="433.68" y1="78.00" x2="437.28" y2="78.00" stroke="#e8202a" stroke-width="0.8" />
<line x1="433.68" y1="84.00" x2="437.28" y2="84.00" stroke="#e8202a" stroke-width="0.8" />
<polygon points="435.48,82.37 433.78,79.14 437.18,79.14" fill="#e8202a"/>
<rect x="310.30" y="82.80" width="3.40" height="3.40" fill="#1f3fa0" />
<rect x="324.02" y="83.10" width="3.40" height="3.40" fill="#1f3fa0" />
<rect x="337.74" y="83.10" width="3.40" height="3.40" fill="#1f3fa0" />
<rect x="351.46" y="82.60" width="3.40" height="3.40" fill="#1f3fa0" />
<line x1="366.88" y1="80.50" x2="366.88" y2="84.00" stroke="#1f3fa0" stroke-width="0.8" />
<line x1="365.08" y1="80.50" x2="368.68" y2="80.50" stroke="#1f3fa0" stroke-width="0.8" />
<line x1="365.08" y1="84.00" x2="368.68" y2="84.00" stroke="#1f3fa0" stroke-width="0.8" />
<rect x="365.18" y="80.60" width="3.40" height="3.40" fill="#1f3fa0" />
<rect x="378.90" y="80.10" width="3.40" height="3.40" fill="#1f3fa0" />
<line x1="394.32" y1="80.00" x2="394.32" y2="83.00" stroke="#1f3fa0" stroke-width="0.8" />
<line x1="392.52" y1="80.00" x2="396.12" y2="80.00" stroke="#1f3fa0" stroke-width="0.8" />
<line x1="392.52" y1="83.00" x2="396.12" y2="83.00" stroke="#1f3fa0" stroke-width="0.8" />
<rect x="392.62" y="79.80" width="3.40" height="3.40" fill="#1f3fa0" />
<line x1="408.04" y1="78.00" x2="408.04" y2="83.00" stroke="#1f3fa0" stroke-width="0.8" />
<line x1="406.24" y1="78.00" x2="409.84" y2="78.00" stroke="#1f3fa0" stroke-width="0.8" />
<line x1="406.24" y1="83.00" x2="409.84" y2="83.00" stroke="#1f3fa0" stroke-width="0.8" />
<rect x="406.34" y="78.80" width="3.40" height="3.40" fill="#1f3fa0" />
<line x1="421.76" y1="79.00" x2="421.76" y2="84.00" stroke="#1f3fa0" stroke-width="0.8" />
<line x1="419.96" y1="79.00" x2="423.56" y2="79.00" stroke="#1f3fa0" stroke-width="0.8" />
<line x1="419.96" y1="84.00" x2="423.56" y2="84.00" stroke="#1f3fa0" stroke-width="0.8" />
<rect x="420.06" y="79.80" width="3.40" height="3.40" fill="#1f3fa0" />
<line x1="435.48" y1="81.00" x2="435.48" y2="88.00" stroke="#1f3fa0" stroke-width="0.8" />
<line x1="433.68" y1="81.00" x2="437.28" y2="81.00" stroke="#1f3fa0" stroke-width="0.8" />
<line x1="433.68" y1="88.00" x2="437.28" y2="88.00" stroke="#1f3fa0" stroke-width="0.8" />
<rect x="433.78" y="82.80" width="3.40" height="3.40" fill="#1f3fa0" />
<line x1="312.00" y1="61.00" x2="312.00" y2="85.00" stroke="#b070b4" stroke-width="0.8" />
<line x1="310.20" y1="61.00" x2="313.80" y2="61.00" stroke="#b070b4" stroke-width="0.8" />
<line x1="310.20" y1="85.00" x2="313.80" y2="85.00" stroke="#b070b4" stroke-width="0.8" />
<circle cx="312.00" cy="75.00" r="2.00" fill="#a05aa8"/>
<line x1="325.72" y1="49.50" x2="325.72" y2="61.00" stroke="#b070b4" stroke-width="0.8" />
<line x1="323.92" y1="49.50" x2="327.52" y2="49.50" stroke="#b070b4" stroke-width="0.8" />
<line x1="323.92" y1="61.00" x2="327.52" y2="61.00" stroke="#b070b4" stroke-width="0.8" />
<circle cx="325.72" cy="55.50" r="2.00" fill="#a05aa8"/>
<line x1="339.44" y1="41.00" x2="339.44" y2="55.00" stroke="#b070b4" stroke-width="0.8" />
<line x1="337.64" y1="41.00" x2="341.24" y2="41.00" stroke="#b070b4" stroke-width="0.8" />
<line x1="337.64" y1="55.00" x2="341.24" y2="55.00" stroke="#b070b4" stroke-width="0.8" />
<circle cx="339.44" cy="48.00" r="2.00" fill="#a05aa8"/>
<line x1="353.16" y1="35.00" x2="353.16" y2="41.00" stroke="#b070b4" stroke-width="0.8" />
<line x1="351.36" y1="35.00" x2="354.96" y2="35.00" stroke="#b070b4" stroke-width="0.8" />
<line x1="351.36" y1="41.00" x2="354.96" y2="41.00" stroke="#b070b4" stroke-width="0.8" />
<circle cx="353.16" cy="38.00" r="2.00" fill="#a05aa8"/>
<circle cx="366.88" cy="38.00" r="2.00" fill="#a05aa8"/>
<line x1="380.60" y1="27.50" x2="380.60" y2="39.00" stroke="#b070b4" stroke-width="0.8" />
<line x1="378.80" y1="27.50" x2="382.40" y2="27.50" stroke="#b070b4" stroke-width="0.8" />
<line x1="378.80" y1="39.00" x2="382.40" y2="39.00" stroke="#b070b4" stroke-width="0.8" />
<circle cx="380.60" cy="33.75" r="2.00" fill="#a05aa8"/>
<circle cx="394.32" cy="36.00" r="2.00" fill="#a05aa8"/>
<line x1="408.04" y1="31.00" x2="408.04" y2="40.00" stroke="#b070b4" stroke-width="0.8" />
<line x1="406.24" y1="31.00" x2="409.84" y2="31.00" stroke="#b070b4" stroke-width="0.8" />
<line x1="406.24" y1="40.00" x2="409.84" y2="40.00" stroke="#b070b4" stroke-width="0.8" />
<circle cx="408.04" cy="36.00" r="2.00" fill="#a05aa8"/>
<line x1="421.76" y1="27.00" x2="421.76" y2="41.00" stroke="#b070b4" stroke-width="0.8" />
<line x1="419.96" y1="27.00" x2="423.56" y2="27.00" stroke="#b070b4" stroke-width="0.8" />
<line x1="419.96" y1="41.00" x2="423.56" y2="41.00" stroke="#b070b4" stroke-width="0.8" />
<circle cx="421.76" cy="34.00" r="2.00" fill="#a05aa8"/>
<circle cx="435.48" cy="40.00" r="2.00" fill="#a05aa8"/>
<line x1="443.00" y1="38.80" x2="453.50" y2="38.80" stroke="#a05aa8" stroke-width="1.1" />
<circle cx="448.20" cy="38.80" r="2.00" fill="#a05aa8"/>
<text transform="translate(456.20,41.05) scale(0.2500,0.2500)" font-family='"Liberation Sans", sans-serif' font-size="24.88" font-weight="normal" fill="#000" text-anchor="start" >Daudi + Rituximab</text>
<line x1="443.00" y1="48.65" x2="453.50" y2="48.65" stroke="#1f3fa0" stroke-width="1.1" />
<rect x="446.20" y="46.65" width="4.00" height="4.00" fill="#1f3fa0" />
<text transform="translate(456.20,50.90) scale(0.2500,0.2500)" font-family='"Liberation Sans", sans-serif' font-size="24.88" font-weight="normal" fill="#000" text-anchor="start" >H1975 + Amivantamab</text>
<line x1="443.00" y1="58.50" x2="453.50" y2="58.50" stroke="#e8202a" stroke-width="1.1" />
<polygon points="448.20,60.70 446.20,56.90 450.20,56.90" fill="#e8202a"/>
<text transform="translate(456.20,60.75) scale(0.2500,0.2500)" font-family='"Liberation Sans", sans-serif' font-size="24.88" font-weight="normal" fill="#000" text-anchor="start" >H1975 + IgG2σ</text>
<text transform="translate(0.30,141.00) scale(0.2375,0.2500)" font-family='"Liberation Sans", sans-serif' font-size="52.80" font-weight="bold" fill="#000" text-anchor="start" stroke="#000" stroke-width="1.2">C</text>
<g clip-path="url(#clp1)">
<rect x="15.50" y="159.90" width="7.17" height="9.10" fill="#d4dc28" />
<rect x="22.07" y="159.90" width="7.17" height="9.10" fill="#073c36" />
<rect x="28.65" y="159.90" width="7.18" height="9.10" fill="#183466" />
<rect x="35.23" y="159.90" width="7.17" height="9.10" fill="#0c5628" />
<rect x="41.80" y="159.90" width="20.33" height="9.10" fill="#c0c0c0" />
<rect x="61.52" y="159.90" width="13.75" height="9.10" fill="#7040ae" />
<rect x="74.68" y="159.90" width="7.17" height="9.10" fill="#2c40b6" />
<rect x="81.25" y="159.90" width="7.18" height="9.10" fill="#c0c0c0" />
<rect x="87.83" y="159.90" width="7.18" height="9.10" fill="#2c40b6" />
<rect x="94.40" y="159.90" width="7.18" height="9.10" fill="#4042b4" />
<rect x="100.98" y="159.90" width="13.75" height="9.10" fill="#2c40b6" />
<rect x="114.12" y="159.90" width="7.18" height="9.10" fill="#2838a6" />
<rect x="120.70" y="159.90" width="7.18" height="9.10" fill="#183466" />
<rect x="127.28" y="159.90" width="26.90" height="9.10" fill="#2c40b6" />
<rect x="153.58" y="159.90" width="7.17" height="9.10" fill="#d91a22" />
<rect x="160.15" y="159.90" width="7.17" height="9.10" fill="#073c36" />
<rect x="166.72" y="159.90" width="7.18" height="9.10" fill="#a4c82c" />
<rect x="173.30" y="159.90" width="20.32" height="9.10" fill="#073c36" />
<rect x="193.03" y="159.90" width="7.17" height="9.10" fill="#a4c82c" />
<rect x="199.60" y="159.90" width="7.18" height="9.10" fill="#ffe600" />
<rect x="206.18" y="159.90" width="7.17" height="9.10" fill="#d4dc28" />
<rect x="212.75" y="159.90" width="7.18" height="9.10" fill="#2f9342" />
<rect x="219.33" y="159.90" width="7.17" height="9.10" fill="#6cb436" />
<rect x="15.50" y="168.40" width="7.17" height="9.10" fill="#ffe600" />
<rect x="22.07" y="168.40" width="7.17" height="9.10" fill="#2f9342" />
<rect x="28.65" y="168.40" width="7.18" height="9.10" fill="#183466" />
<rect x="35.23" y="168.40" width="7.17" height="9.10" fill="#137434" />
<rect x="41.80" y="168.40" width="7.18" height="9.10" fill="#2c40b6" />
<rect x="48.38" y="168.40" width="7.18" height="9.10" fill="#2f9342" />
<rect x="54.95" y="168.40" width="26.90" height="9.10" fill="#c0c0c0" />
<rect x="81.25" y="168.40" width="7.18" height="9.10" fill="#073c36" />
<rect x="87.83" y="168.40" width="7.18" height="9.10" fill="#2c40b6" />
<rect x="94.40" y="168.40" width="7.18" height="9.10" fill="#4042b4" />
<rect x="100.98" y="168.40" width="13.75" height="9.10" fill="#2c40b6" />
<rect x="114.12" y="168.40" width="7.18" height="9.10" fill="#183466" />
<rect x="120.70" y="168.40" width="7.18" height="9.10" fill="#137434" />
<rect x="127.28" y="168.40" width="20.32" height="9.10" fill="#2c40b6" />
<rect x="147.00" y="168.40" width="7.18" height="9.10" fill="#2838a6" />
<rect x="153.58" y="168.40" width="7.17" height="9.10" fill="#d91a22" />
<rect x="160.15" y="168.40" width="7.17" height="9.10" fill="#137434" />
<rect x="166.72" y="168.40" width="7.18" height="9.10" fill="#a4c82c" />
<rect x="173.30" y="168.40" width="13.75" height="9.10" fill="#0c5628" />
<rect x="186.45" y="168.40" width="7.17" height="9.10" fill="#073c36" />
<rect x="193.03" y="168.40" width="7.17" height="9.10" fill="#6cb436" />
<rect x="199.60" y="168.40" width="7.18" height="9.10" fill="#ffe600" />
<rect x="206.18" y="168.40" width="7.17" height="9.10" fill="#d4dc28" />
<rect x="212.75" y="168.40" width="7.18" height="9.10" fill="#a4c82c" />
<rect x="219.33" y="168.40" width="7.17" height="9.10" fill="#6cb436" />
<rect x="15.50" y="176.90" width="7.17" height="9.10" fill="#ffe600" />
<rect x="22.07" y="176.90" width="7.17" height="9.10" fill="#0c5628" />
<rect x="28.65" y="176.90" width="7.18" height="9.10" fill="#183466" />
<rect x="35.23" y="176.90" width="7.17" height="9.10" fill="#137434" />
<rect x="41.80" y="176.90" width="7.18" height="9.10" fill="#4042b4" />
<rect x="48.38" y="176.90" width="7.18" height="9.10" fill="#0c5628" />
<rect x="54.95" y="176.90" width="26.90" height="9.10" fill="#c0c0c0" />
<rect x="81.25" y="176.90" width="7.18" height="9.10" fill="#183466" />
<rect x="87.83" y="176.90" width="7.18" height="9.10" fill="#2c40b6" />
<rect x="94.40" y="176.90" width="7.18" height="9.10" fill="#4042b4" />
<rect x="100.98" y="176.90" width="13.75" height="9.10" fill="#2c40b6" />
<rect x="114.12" y="176.90" width="13.75" height="9.10" fill="#073c36" />
<rect x="127.28" y="176.90" width="20.32" height="9.10" fill="#2c40b6" />
<rect x="147.00" y="176.90" width="7.18" height="9.10" fill="#2838a6" />
<rect x="153.58" y="176.90" width="7.17" height="9.10" fill="#d91a22" />
<rect x="160.15" y="176.90" width="7.17" height="9.10" fill="#073c36" />
<rect x="166.72" y="176.90" width="7.18" height="9.10" fill="#a4c82c" />
<rect x="173.30" y="176.90" width="13.75" height="9.10" fill="#073c36" />
<rect x="186.45" y="176.90" width="7.17" height="9.10" fill="#2f9342" />
<rect x="193.03" y="176.90" width="7.17" height="9.10" fill="#a4c82c" />
<rect x="199.60" y="176.90" width="7.18" height="9.10" fill="#f8a422" />
<rect x="206.18" y="176.90" width="7.17" height="9.10" fill="#d4dc28" />
<rect x="212.75" y="176.90" width="7.18" height="9.10" fill="#a4c82c" />
<rect x="219.33" y="176.90" width="7.17" height="9.10" fill="#6cb436" />
<rect x="15.50" y="185.40" width="7.17" height="9.10" fill="#d4dc28" />
<rect x="22.07" y="185.40" width="7.17" height="9.10" fill="#073c36" />
<rect x="28.65" y="185.40" width="7.18" height="9.10" fill="#26368c" />
<rect x="35.23" y="185.40" width="7.17" height="9.10" fill="#0c5628" />
<rect x="41.80" y="185.40" width="13.75" height="9.10" fill="#c0c0c0" />
<rect x="54.95" y="185.40" width="7.17" height="9.10" fill="#2838a6" />
<rect x="61.52" y="185.40" width="20.33" height="9.10" fill="#c0c0c0" />
<rect x="81.25" y="185.40" width="7.18" height="9.10" fill="#26368c" />
<rect x="87.83" y="185.40" width="7.18" height="9.10" fill="#2c40b6" />
<rect x="94.40" y="185.40" width="7.18" height="9.10" fill="#4042b4" />
<rect x="100.98" y="185.40" width="13.75" height="9.10" fill="#2c40b6" />
<rect x="114.12" y="185.40" width="7.18" height="9.10" fill="#26368c" />
<rect x="120.70" y="185.40" width="7.18" height="9.10" fill="#183466" />
<rect x="127.28" y="185.40" width="13.75" height="9.10" fill="#4042b4" />
<rect x="140.43" y="185.40" width="13.75" height="9.10" fill="#2c40b6" />
<rect x="153.58" y="185.40" width="7.17" height="9.10" fill="#d91a22" />
<rect x="160.15" y="185.40" width="7.17" height="9.10" fill="#073c36" />
<rect x="166.72" y="185.40" width="7.18" height="9.10" fill="#a4c82c" />
<rect x="173.30" y="185.40" width="13.75" height="9.10" fill="#073c36" />
<rect x="186.45" y="185.40" width="7.17" height="9.10" fill="#137434" />
<rect x="193.03" y="185.40" width="13.75" height="9.10" fill="#ffe600" />
<rect x="206.18" y="185.40" width="7.17" height="9.10" fill="#d4dc28" />
<rect x="212.75" y="185.40" width="13.75" height="9.10" fill="#6cb436" />
</g>
<g clip-path="url(#clp2)">
<rect x="15.50" y="194.90" width="66.35" height="8.77" fill="#c0c0c0" />
<rect x="81.25" y="194.90" width="7.18" height="8.77" fill="#2838a6" />
<rect x="87.83" y="194.90" width="7.18" height="8.77" fill="#2c40b6" />
<rect x="94.40" y="194.90" width="7.18" height="8.77" fill="#4042b4" />
<rect x="100.98" y="194.90" width="7.17" height="8.77" fill="#5440b0" />
<rect x="107.55" y="194.90" width="7.18" height="8.77" fill="#4042b4" />
<rect x="114.12" y="194.90" width="40.05" height="8.77" fill="#c0c0c0" />
<rect x="153.58" y="194.90" width="7.17" height="8.77" fill="#e95a1e" />
<rect x="160.15" y="194.90" width="7.17" height="8.77" fill="#183466" />
<rect x="166.72" y="194.90" width="7.18" height="8.77" fill="#0c5628" />
<rect x="173.30" y="194.90" width="7.17" height="8.77" fill="#2c40b6" />
<rect x="179.88" y="194.90" width="7.18" height="8.77" fill="#4042b4" />
<rect x="186.45" y="194.90" width="7.17" height="8.77" fill="#2838a6" />
<rect x="193.03" y="194.90" width="7.17" height="8.77" fill="#6cb436" />
<rect x="199.60" y="194.90" width="7.18" height="8.77" fill="#f8a422" />
<rect x="206.18" y="194.90" width="20.32" height="8.77" fill="#137434" />
<rect x="15.50" y="203.07" width="72.92" height="8.77" fill="#c0c0c0" />
<rect x="87.83" y="203.07" width="7.18" height="8.77" fill="#2c40b6" />
<rect x="94.40" y="203.07" width="7.18" height="8.77" fill="#4042b4" />
<rect x="100.98" y="203.07" width="7.17" height="8.77" fill="#5440b0" />
<rect x="107.55" y="203.07" width="7.18" height="8.77" fill="#4042b4" />
<rect x="114.12" y="203.07" width="40.05" height="8.77" fill="#c0c0c0" />
<rect x="153.58" y="203.07" width="7.17" height="8.77" fill="#e95a1e" />
<rect x="160.15" y="203.07" width="7.17" height="8.77" fill="#183466" />
<rect x="166.72" y="203.07" width="7.18" height="8.77" fill="#137434" />
<rect x="173.30" y="203.07" width="7.17" height="8.77" fill="#2c40b6" />
<rect x="179.88" y="203.07" width="7.18" height="8.77" fill="#4042b4" />
<rect x="186.45" y="203.07" width="7.17" height="8.77" fill="#2838a6" />
<rect x="193.03" y="203.07" width="7.17" height="8.77" fill="#a4c82c" />
<rect x="199.60" y="203.07" width="7.18" height="8.77" fill="#ffe600" />
<rect x="206.18" y="203.07" width="20.32" height="8.77" fill="#137434" />
<rect x="15.50" y="211.23" width="72.92" height="8.77" fill="#c0c0c0" />
<rect x="87.83" y="211.23" width="7.18" height="8.77" fill="#2c40b6" />
<rect x="94.40" y="211.23" width="7.18" height="8.77" fill="#4042b4" />
<rect x="100.98" y="211.23" width="7.17" height="8.77" fill="#5440b0" />
<rect x="107.55" y="211.23" width="7.18" height="8.77" fill="#4042b4" />
<rect x="114.12" y="211.23" width="40.05" height="8.77" fill="#c0c0c0" />
<rect x="153.58" y="211.23" width="7.17" height="8.77" fill="#f8a422" />
<rect x="160.15" y="211.23" width="7.17" height="8.77" fill="#183466" />
<rect x="166.72" y="211.23" width="7.18" height="8.77" fill="#137434" />
<rect x="173.30" y="211.23" width="7.17" height="8.77" fill="#2c40b6" />
<rect x="179.88" y="211.23" width="7.18" height="8.77" fill="#4042b4" />
<rect x="186.45" y="211.23" width="7.17" height="8.77" fill="#2838a6" />
<rect x="193.03" y="211.23" width="7.17" height="8.77" fill="#a4c82c" />
<rect x="199.60" y="211.23" width="7.18" height="8.77" fill="#ffe600" />
<rect x="206.18" y="211.23" width="20.32" height="8.77" fill="#137434" />
</g>
<g clip-path="url(#clp3)">
<rect x="15.50" y="220.60" width="7.17" height="8.90" fill="#0c5628" />
<rect x="22.07" y="220.60" width="7.17" height="8.90" fill="#2838a6" />
<rect x="28.65" y="220.60" width="7.18" height="8.90" fill="#073c36" />
<rect x="35.23" y="220.60" width="7.17" height="8.90" fill="#137434" />
<rect x="41.80" y="220.60" width="7.18" height="8.90" fill="#2c40b6" />
<rect x="48.38" y="220.60" width="13.75" height="8.90" fill="#c0c0c0" />
<rect x="61.52" y="220.60" width="7.17" height="8.90" fill="#7040ae" />
<rect x="68.10" y="220.60" width="13.75" height="8.90" fill="#c0c0c0" />
<rect x="81.25" y="220.60" width="7.18" height="8.90" fill="#073c36" />
<rect x="87.83" y="220.60" width="46.63" height="8.90" fill="#c0c0c0" />
<rect x="133.85" y="220.60" width="13.75" height="8.90" fill="#4042b4" />
<rect x="147.00" y="220.60" width="7.18" height="8.90" fill="#5440b0" />
<rect x="153.58" y="220.60" width="7.17" height="8.90" fill="#d91a22" />
<rect x="160.15" y="220.60" width="7.17" height="8.90" fill="#c0c0c0" />
<rect x="166.72" y="220.60" width="7.18" height="8.90" fill="#5440b0" />
<rect x="173.30" y="220.60" width="7.17" height="8.90" fill="#4042b4" />
<rect x="179.88" y="220.60" width="7.18" height="8.90" fill="#2838a6" />
<rect x="186.45" y="220.60" width="7.17" height="8.90" fill="#0c5628" />
<rect x="193.03" y="220.60" width="7.17" height="8.90" fill="#a4c82c" />
<rect x="199.60" y="220.60" width="7.18" height="8.90" fill="#2838a6" />
<rect x="206.18" y="220.60" width="7.17" height="8.90" fill="#183466" />
<rect x="212.75" y="220.60" width="7.18" height="8.90" fill="#2838a6" />
<rect x="219.33" y="220.60" width="7.17" height="8.90" fill="#2c40b6" />
<rect x="15.50" y="228.90" width="7.17" height="8.90" fill="#0c5628" />
<rect x="22.07" y="228.90" width="7.17" height="8.90" fill="#2c40b6" />
<rect x="28.65" y="228.90" width="7.18" height="8.90" fill="#183466" />
<rect x="35.23" y="228.90" width="7.17" height="8.90" fill="#073c36" />
<rect x="41.80" y="228.90" width="86.08" height="8.90" fill="#c0c0c0" />
<rect x="127.28" y="228.90" width="13.75" height="8.90" fill="#4042b4" />
<rect x="140.43" y="228.90" width="7.17" height="8.90" fill="#5440b0" />
<rect x="147.00" y="228.90" width="7.18" height="8.90" fill="#7040ae" />
<rect x="153.58" y="228.90" width="7.17" height="8.90" fill="#d91a22" />
<rect x="160.15" y="228.90" width="7.17" height="8.90" fill="#c0c0c0" />
<rect x="166.72" y="228.90" width="7.18" height="8.90" fill="#7040ae" />
<rect x="173.30" y="228.90" width="7.17" height="8.90" fill="#4042b4" />
<rect x="179.88" y="228.90" width="7.18" height="8.90" fill="#2838a6" />
<rect x="186.45" y="228.90" width="7.17" height="8.90" fill="#073c36" />
<rect x="193.03" y="228.90" width="7.17" height="8.90" fill="#c0c0c0" />
<rect x="199.60" y="228.90" width="7.18" height="8.90" fill="#2838a6" />
<rect x="206.18" y="228.90" width="7.17" height="8.90" fill="#183466" />
<rect x="212.75" y="228.90" width="7.18" height="8.90" fill="#2838a6" />
<rect x="219.33" y="228.90" width="7.17" height="8.90" fill="#2c40b6" />
<rect x="15.50" y="237.20" width="7.17" height="8.90" fill="#0c5628" />
<rect x="22.07" y="237.20" width="7.17" height="8.90" fill="#2838a6" />
<rect x="28.65" y="237.20" width="7.18" height="8.90" fill="#183466" />
<rect x="35.23" y="237.20" width="7.17" height="8.90" fill="#073c36" />
<rect x="41.80" y="237.20" width="20.33" height="8.90" fill="#c0c0c0" />
<rect x="61.52" y="237.20" width="7.17" height="8.90" fill="#7040ae" />
<rect x="68.10" y="237.20" width="59.78" height="8.90" fill="#c0c0c0" />
<rect x="127.28" y="237.20" width="7.18" height="8.90" fill="#4042b4" />
<rect x="133.85" y="237.20" width="7.17" height="8.90" fill="#c0c0c0" />
<rect x="140.43" y="237.20" width="7.17" height="8.90" fill="#2c40b6" />
<rect x="147.00" y="237.20" width="7.18" height="8.90" fill="#26368c" />
<rect x="153.58" y="237.20" width="7.17" height="8.90" fill="#d91a22" />
<rect x="160.15" y="237.20" width="7.17" height="8.90" fill="#2c40b6" />
<rect x="166.72" y="237.20" width="7.18" height="8.90" fill="#5440b0" />
<rect x="173.30" y="237.20" width="7.17" height="8.90" fill="#4042b4" />
<rect x="179.88" y="237.20" width="7.18" height="8.90" fill="#2838a6" />
<rect x="186.45" y="237.20" width="7.17" height="8.90" fill="#0c5628" />
<rect x="193.03" y="237.20" width="7.17" height="8.90" fill="#c0c0c0" />
<rect x="199.60" y="237.20" width="7.18" height="8.90" fill="#2838a6" />
<rect x="206.18" y="237.20" width="7.17" height="8.90" fill="#26368c" />
<rect x="212.75" y="237.20" width="7.18" height="8.90" fill="#2838a6" />
<rect x="219.33" y="237.20" width="7.17" height="8.90" fill="#2c40b6" />
</g>
<text transform="translate(18.94,248.40) rotate(-90) scale(0.2500,0.2500)" font-family='"Liberation Sans", sans-serif' font-size="19.60" font-weight="normal" fill="#111" text-anchor="end" stroke="#111" stroke-width="0.4">IL-1RA</text>
<text transform="translate(25.51,248.40) rotate(-90) scale(0.2500,0.2500)" font-family='"Liberation Sans", sans-serif' font-size="19.60" font-weight="normal" fill="#111" text-anchor="end" stroke="#111" stroke-width="0.4">MIP-1δ</text>
<text transform="translate(32.09,248.40) rotate(-90) scale(0.2500,0.2500)" font-family='"Liberation Sans", sans-serif' font-size="19.60" font-weight="normal" fill="#111" text-anchor="end" stroke="#111" stroke-width="0.4">IL-16</text>
<text transform="translate(38.66,248.40) rotate(-90) scale(0.2500,0.2500)" font-family='"Liberation Sans", sans-serif' font-size="19.60" font-weight="normal" fill="#111" text-anchor="end" stroke="#111" stroke-width="0.4">SDF-1α</text>
<text transform="translate(45.24,248.40) rotate(-90) scale(0.2500,0.2500)" font-family='"Liberation Sans", sans-serif' font-size="19.60" font-weight="normal" fill="#111" text-anchor="end" stroke="#111" stroke-width="0.4">IFN-α2a</text>
<text transform="translate(51.81,248.40) rotate(-90) scale(0.2500,0.2500)" font-family='"Liberation Sans", sans-serif' font-size="19.60" font-weight="normal" fill="#111" text-anchor="end" stroke="#111" stroke-width="0.4">Eotaxin</text>
<text transform="translate(58.39,248.40) rotate(-90) scale(0.2500,0.2500)" font-family='"Liberation Sans", sans-serif' font-size="19.60" font-weight="normal" fill="#111" text-anchor="end" stroke="#111" stroke-width="0.4">MCP-4</text>
<text transform="translate(64.96,248.40) rotate(-90) scale(0.2500,0.2500)" font-family='"Liberation Sans", sans-serif' font-size="19.60" font-weight="normal" fill="#111" text-anchor="end" stroke="#111" stroke-width="0.4">I-TAC</text>
<text transform="translate(71.54,248.40) rotate(-90) scale(0.2500,0.2500)" font-family='"Liberation Sans", sans-serif' font-size="19.60" font-weight="normal" fill="#111" text-anchor="end" stroke="#111" stroke-width="0.4">IL-2</text>
<text transform="translate(78.11,248.40) rotate(-90) scale(0.2500,0.2500)" font-family='"Liberation Sans", sans-serif' font-size="19.60" font-weight="normal" fill="#111" text-anchor="end" stroke="#111" stroke-width="0.4">IL-18</text>
<text transform="translate(84.69,248.40) rotate(-90) scale(0.2500,0.2500)" font-family='"Liberation Sans", sans-serif' font-size="19.60" font-weight="normal" fill="#111" text-anchor="end" stroke="#111" stroke-width="0.4">Eotaxin-2</text>
<text transform="translate(91.26,248.40) rotate(-90) scale(0.2500,0.2500)" font-family='"Liberation Sans", sans-serif' font-size="19.60" font-weight="normal" fill="#111" text-anchor="end" stroke="#111" stroke-width="0.4">M-CSF</text>
<text transform="translate(97.84,248.40) rotate(-90) scale(0.2500,0.2500)" font-family='"Liberation Sans", sans-serif' font-size="19.60" font-weight="normal" fill="#111" text-anchor="end" stroke="#111" stroke-width="0.4">IL-12p70</text>
<text transform="translate(104.41,248.40) rotate(-90) scale(0.2500,0.2500)" font-family='"Liberation Sans", sans-serif' font-size="19.60" font-weight="normal" fill="#111" text-anchor="end" stroke="#111" stroke-width="0.4">GM-CSF</text>
<text transform="translate(110.99,248.40) rotate(-90) scale(0.2500,0.2500)" font-family='"Liberation Sans", sans-serif' font-size="19.60" font-weight="normal" fill="#111" text-anchor="end" stroke="#111" stroke-width="0.4">IL-1β</text>
<text transform="translate(117.56,248.40) rotate(-90) scale(0.2500,0.2500)" font-family='"Liberation Sans", sans-serif' font-size="19.60" font-weight="normal" fill="#111" text-anchor="end" stroke="#111" stroke-width="0.4">FLT3L</text>
<text transform="translate(124.14,248.40) rotate(-90) scale(0.2500,0.2500)" font-family='"Liberation Sans", sans-serif' font-size="19.60" font-weight="normal" fill="#111" text-anchor="end" stroke="#111" stroke-width="0.4">IP-10</text>
<text transform="translate(130.71,248.40) rotate(-90) scale(0.2500,0.2500)" font-family='"Liberation Sans", sans-serif' font-size="19.60" font-weight="normal" fill="#111" text-anchor="end" stroke="#111" stroke-width="0.4">TARC</text>
<text transform="translate(137.29,248.40) rotate(-90) scale(0.2500,0.2500)" font-family='"Liberation Sans", sans-serif' font-size="19.60" font-weight="normal" fill="#111" text-anchor="end" stroke="#111" stroke-width="0.4">TNF-α</text>
<text transform="translate(143.86,248.40) rotate(-90) scale(0.2500,0.2500)" font-family='"Liberation Sans", sans-serif' font-size="19.60" font-weight="normal" fill="#111" text-anchor="end" stroke="#111" stroke-width="0.4">MCP-2</text>
<text transform="translate(150.44,248.40) rotate(-90) scale(0.2500,0.2500)" font-family='"Liberation Sans", sans-serif' font-size="19.60" font-weight="normal" fill="#111" text-anchor="end" stroke="#111" stroke-width="0.4">MCP-3</text>
<text transform="translate(157.01,248.40) rotate(-90) scale(0.2500,0.2500)" font-family='"Liberation Sans", sans-serif' font-size="19.60" font-weight="normal" fill="#111" text-anchor="end" stroke="#111" stroke-width="0.4">IL-1α</text>
<text transform="translate(163.59,248.40) rotate(-90) scale(0.2500,0.2500)" font-family='"Liberation Sans", sans-serif' font-size="19.60" font-weight="normal" fill="#111" text-anchor="end" stroke="#111" stroke-width="0.4">IFN-γ</text>
<text transform="translate(170.16,248.40) rotate(-90) scale(0.2500,0.2500)" font-family='"Liberation Sans", sans-serif' font-size="19.60" font-weight="normal" fill="#111" text-anchor="end" stroke="#111" stroke-width="0.4">IL-6</text>
<text transform="translate(176.74,248.40) rotate(-90) scale(0.2500,0.2500)" font-family='"Liberation Sans", sans-serif' font-size="19.60" font-weight="normal" fill="#111" text-anchor="end" stroke="#111" stroke-width="0.4">GRO-α</text>
<text transform="translate(183.31,248.40) rotate(-90) scale(0.2500,0.2500)" font-family='"Liberation Sans", sans-serif' font-size="19.60" font-weight="normal" fill="#111" text-anchor="end" stroke="#111" stroke-width="0.4">ENA-78</text>
<text transform="translate(189.89,248.40) rotate(-90) scale(0.2500,0.2500)" font-family='"Liberation Sans", sans-serif' font-size="19.60" font-weight="normal" fill="#111" text-anchor="end" stroke="#111" stroke-width="0.4">IL-10</text>
<text transform="translate(196.46,248.40) rotate(-90) scale(0.2500,0.2500)" font-family='"Liberation Sans", sans-serif' font-size="19.60" font-weight="normal" fill="#111" text-anchor="end" stroke="#111" stroke-width="0.4">Fractalkine</text>
<text transform="translate(203.04,248.40) rotate(-90) scale(0.2500,0.2500)" font-family='"Liberation Sans", sans-serif' font-size="19.60" font-weight="normal" fill="#111" text-anchor="end" stroke="#111" stroke-width="0.4">YKL-40</text>
<text transform="translate(209.61,248.40) rotate(-90) scale(0.2500,0.2500)" font-family='"Liberation Sans", sans-serif' font-size="19.60" font-weight="normal" fill="#111" text-anchor="end" stroke="#111" stroke-width="0.4">IL-8</text>
<text transform="translate(216.19,248.40) rotate(-90) scale(0.2500,0.2500)" font-family='"Liberation Sans", sans-serif' font-size="19.60" font-weight="normal" fill="#111" text-anchor="end" stroke="#111" stroke-width="0.4">MCP-1</text>
<text transform="translate(222.76,248.40) rotate(-90) scale(0.2500,0.2500)" font-family='"Liberation Sans", sans-serif' font-size="19.60" font-weight="normal" fill="#111" text-anchor="end" stroke="#111" stroke-width="0.4">VEGF-A</text>
<line x1="74.68" y1="159.90" x2="74.68" y2="245.50" stroke="#dcdcdc" stroke-width="0.5" />
<text transform="translate(227.40,165.40) scale(0.2500,0.2500)" font-family='"Liberation Sans", sans-serif' font-size="14.00" font-weight="bold" fill="#2a2a2a" text-anchor="start" >H1975+PBMC Isotype</text>
<text transform="translate(227.40,173.90) scale(0.2500,0.2500)" font-family='"Liberation Sans", sans-serif' font-size="14.00" font-weight="bold" fill="#2a2a2a" text-anchor="start" >H1975+PBMC Amivantamab</text>
<text transform="translate(227.40,182.40) scale(0.2500,0.2500)" font-family='"Liberation Sans", sans-serif' font-size="14.00" font-weight="bold" fill="#2a2a2a" text-anchor="start" >H1975+PBMC Cetuximab</text>
<text transform="translate(227.40,190.90) scale(0.2500,0.2500)" font-family='"Liberation Sans", sans-serif' font-size="14.00" font-weight="bold" fill="#2a2a2a" text-anchor="start" >H1975+PBMC IgG2σ</text>
<text transform="translate(227.40,200.23) scale(0.2500,0.2500)" font-family='"Liberation Sans", sans-serif' font-size="14.00" font-weight="bold" fill="#2a2a2a" text-anchor="start" >H1975 Isotype</text>
<text transform="translate(227.40,208.40) scale(0.2500,0.2500)" font-family='"Liberation Sans", sans-serif' font-size="14.00" font-weight="bold" fill="#2a2a2a" text-anchor="start" >H1975 Amivantamab</text>
<text transform="translate(227.40,216.57) scale(0.2500,0.2500)" font-family='"Liberation Sans", sans-serif' font-size="14.00" font-weight="bold" fill="#2a2a2a" text-anchor="start" >H1975 IgG2σ</text>
<text transform="translate(227.40,226.00) scale(0.2500,0.2500)" font-family='"Liberation Sans", sans-serif' font-size="14.00" font-weight="bold" fill="#2a2a2a" text-anchor="start" >PBMC Isotype</text>
<text transform="translate(227.40,234.30) scale(0.2500,0.2500)" font-family='"Liberation Sans", sans-serif' font-size="14.00" font-weight="bold" fill="#2a2a2a" text-anchor="start" >PBMC Amivantamab</text>
<text transform="translate(227.40,242.60) scale(0.2500,0.2500)" font-family='"Liberation Sans", sans-serif' font-size="14.00" font-weight="bold" fill="#2a2a2a" text-anchor="start" >PBMC IgG2σ</text>
<rect x="192.50" y="138.00" width="30.50" height="14.20" fill="url(#cbar)" />
<polyline points="194.00,150.00 196.00,144.00 198.00,142.50 200.00,146.00 202.00,143.00 204.00,142.50 206.00,144.00 208.00,147.00 210.00,150.00 214.00,151.00 222.00,151.50" fill="none" stroke="#7fd0e8" stroke-width="0.3" opacity="0.6"/>
<text transform="translate(194.50,155.20) scale(0.2500,0.2500)" font-family='"Liberation Sans", sans-serif' font-size="7.20" font-weight="normal" fill="#777" text-anchor="middle" >-2</text>
<text transform="translate(201.30,155.20) scale(0.2500,0.2500)" font-family='"Liberation Sans", sans-serif' font-size="7.20" font-weight="normal" fill="#777" text-anchor="middle" >0</text>
<text transform="translate(208.10,155.20) scale(0.2500,0.2500)" font-family='"Liberation Sans", sans-serif' font-size="7.20" font-weight="normal" fill="#777" text-anchor="middle" >2</text>
<text transform="translate(214.90,155.20) scale(0.2500,0.2500)" font-family='"Liberation Sans", sans-serif' font-size="7.20" font-weight="normal" fill="#777" text-anchor="middle" >4</text>
<text transform="translate(221.70,155.20) scale(0.2500,0.2500)" font-family='"Liberation Sans", sans-serif' font-size="7.20" font-weight="normal" fill="#777" text-anchor="middle" >6</text>
<text transform="translate(207.50,157.60) scale(0.2500,0.2500)" font-family='"Liberation Sans", sans-serif' font-size="7.20" font-weight="normal" fill="#777" text-anchor="middle" >log2(x)</text>
<text transform="translate(190.20,146.00) rotate(-90) scale(0.2500,0.2500)" font-family='"Liberation Sans", sans-serif' font-size="6.40" font-weight="normal" fill="#777" text-anchor="middle" >Count</text>
<text transform="translate(272.00,140.90) scale(0.2375,0.2500)" font-family='"Liberation Sans", sans-serif' font-size="52.80" font-weight="bold" fill="#000" text-anchor="start" stroke="#000" stroke-width="1.2">D</text>
<line x1="306.80" y1="160.20" x2="306.80" y2="248.20" stroke="#000" stroke-width="1.25" />
<line x1="306.20" y1="247.60" x2="488.50" y2="247.60" stroke="#000" stroke-width="1.25" />
<line x1="304.60" y1="238.20" x2="306.80" y2="238.20" stroke="#000" stroke-width="1.1" />
<text transform="translate(303.90,240.65) scale(0.2500,0.2500)" font-family='"Liberation Sans", sans-serif' font-size="27.60" font-weight="bold" fill="#000" text-anchor="end"  stroke="#000" stroke-width="0.55">0</text>
<line x1="304.60" y1="218.83" x2="306.80" y2="218.83" stroke="#000" stroke-width="1.1" />
<text transform="translate(303.90,221.28) scale(0.2500,0.2500)" font-family='"Liberation Sans", sans-serif' font-size="27.60" font-weight="bold" fill="#000" text-anchor="end"  stroke="#000" stroke-width="0.55">1</text>
<line x1="304.60" y1="199.46" x2="306.80" y2="199.46" stroke="#000" stroke-width="1.1" />
<text transform="translate(303.90,201.91) scale(0.2500,0.2500)" font-family='"Liberation Sans", sans-serif' font-size="27.60" font-weight="bold" fill="#000" text-anchor="end"  stroke="#000" stroke-width="0.55">2</text>
<line x1="304.60" y1="180.09" x2="306.80" y2="180.09" stroke="#000" stroke-width="1.1" />
<text transform="translate(303.90,182.54) scale(0.2500,0.2500)" font-family='"Liberation Sans", sans-serif' font-size="27.60" font-weight="bold" fill="#000" text-anchor="end"  stroke="#000" stroke-width="0.55">3</text>
<line x1="304.60" y1="160.72" x2="306.80" y2="160.72" stroke="#000" stroke-width="1.1" />
<text transform="translate(303.90,163.17) scale(0.2500,0.2500)" font-family='"Liberation Sans", sans-serif' font-size="27.60" font-weight="bold" fill="#000" text-anchor="end"  stroke="#000" stroke-width="0.55">4</text>
<rect x="308.20" y="168.27" width="4.95" height="69.93" fill="#1f3fa8" />
<rect x="313.00" y="170.99" width="4.95" height="67.21" fill="#9a3fa8" />
<rect x="317.80" y="226.58" width="4.80" height="11.62" fill="#e8182a" />
<line x1="315.40" y1="247.60" x2="315.40" y2="250.60" stroke="#000" stroke-width="1.1" />
<text transform="translate(318.30,253.50) rotate(-45) scale(0.2500,0.2500)" font-family='"Liberation Sans", sans-serif' font-size="27.60" font-weight="bold" fill="#000" text-anchor="end"  stroke="#000" stroke-width="0.55">MCP-3</text>
<rect x="326.44" y="189.00" width="4.95" height="49.20" fill="#1f3fa8" />
<rect x="331.24" y="215.15" width="4.95" height="23.05" fill="#9a3fa8" />
<rect x="336.04" y="236.65" width="4.80" height="1.55" fill="#e8182a" />
<line x1="333.64" y1="247.60" x2="333.64" y2="250.60" stroke="#000" stroke-width="1.1" />
<text transform="translate(336.54,253.50) rotate(-45) scale(0.2500,0.2500)" font-family='"Liberation Sans", sans-serif' font-size="27.60" font-weight="bold" fill="#000" text-anchor="end"  stroke="#000" stroke-width="0.55">MIP-1β</text>
<rect x="344.68" y="200.23" width="4.95" height="37.97" fill="#1f3fa8" />
<rect x="349.48" y="222.51" width="4.95" height="15.69" fill="#9a3fa8" />
<rect x="354.28" y="235.29" width="4.80" height="2.91" fill="#e8182a" />
<line x1="351.88" y1="247.60" x2="351.88" y2="250.60" stroke="#000" stroke-width="1.1" />
<text transform="translate(354.78,253.50) rotate(-45) scale(0.2500,0.2500)" font-family='"Liberation Sans", sans-serif' font-size="27.60" font-weight="bold" fill="#000" text-anchor="end"  stroke="#000" stroke-width="0.55">IP-10</text>
<rect x="362.92" y="212.24" width="4.95" height="25.96" fill="#1f3fa8" />
<rect x="367.72" y="220.57" width="4.95" height="17.63" fill="#9a3fa8" />
<rect x="372.52" y="238.20" width="4.80" height="1.94" fill="#e8182a" />
<line x1="370.12" y1="247.60" x2="370.12" y2="250.60" stroke="#000" stroke-width="1.1" />
<text transform="translate(373.02,253.50) rotate(-45) scale(0.2500,0.2500)" font-family='"Liberation Sans", sans-serif' font-size="27.60" font-weight="bold" fill="#000" text-anchor="end"  stroke="#000" stroke-width="0.55">IL-1RA</text>
<rect x="381.16" y="216.31" width="4.95" height="21.89" fill="#1f3fa8" />
<rect x="385.96" y="227.35" width="4.95" height="10.85" fill="#9a3fa8" />
<rect x="390.76" y="236.65" width="4.80" height="1.55" fill="#e8182a" />
<line x1="388.36" y1="247.60" x2="388.36" y2="250.60" stroke="#000" stroke-width="1.1" />
<text transform="translate(391.26,253.50) rotate(-45) scale(0.2500,0.2500)" font-family='"Liberation Sans", sans-serif' font-size="27.60" font-weight="bold" fill="#000" text-anchor="end"  stroke="#000" stroke-width="0.55">MCP-1</text>
<rect x="399.40" y="222.51" width="4.95" height="15.69" fill="#1f3fa8" />
<rect x="404.20" y="238.20" width="4.95" height="1.36" fill="#9a3fa8" />
<rect x="409.00" y="238.20" width="4.80" height="2.32" fill="#e8182a" />
<line x1="406.60" y1="247.60" x2="406.60" y2="250.60" stroke="#000" stroke-width="1.1" />
<text transform="translate(409.50,253.50) rotate(-45) scale(0.2500,0.2500)" font-family='"Liberation Sans", sans-serif' font-size="27.60" font-weight="bold" fill="#000" text-anchor="end"  stroke="#000" stroke-width="0.55">IFN-γ</text>
<rect x="417.64" y="223.48" width="4.95" height="14.72" fill="#1f3fa8" />
<rect x="422.44" y="229.29" width="4.95" height="8.91" fill="#9a3fa8" />
<rect x="427.24" y="234.91" width="4.80" height="3.29" fill="#e8182a" />
<line x1="424.84" y1="247.60" x2="424.84" y2="250.60" stroke="#000" stroke-width="1.1" />
<text transform="translate(427.74,253.50) rotate(-45) scale(0.2500,0.2500)" font-family='"Liberation Sans", sans-serif' font-size="27.60" font-weight="bold" fill="#000" text-anchor="end"  stroke="#000" stroke-width="0.55">TNF-α</text>
<rect x="435.88" y="225.22" width="4.95" height="12.98" fill="#1f3fa8" />
<rect x="440.68" y="232.20" width="4.95" height="6.00" fill="#9a3fa8" />
<rect x="445.48" y="238.20" width="4.80" height="0.97" fill="#e8182a" />
<line x1="443.08" y1="247.60" x2="443.08" y2="250.60" stroke="#000" stroke-width="1.1" />
<text transform="translate(445.98,253.50) rotate(-45) scale(0.2500,0.2500)" font-family='"Liberation Sans", sans-serif' font-size="27.60" font-weight="bold" fill="#000" text-anchor="end"  stroke="#000" stroke-width="0.55">GRO-α</text>
<rect x="454.12" y="226.58" width="4.95" height="11.62" fill="#1f3fa8" />
<rect x="458.92" y="234.13" width="4.95" height="4.07" fill="#9a3fa8" />
<rect x="463.72" y="237.81" width="4.80" height="0.39" fill="#e8182a" />
<line x1="461.32" y1="247.60" x2="461.32" y2="250.60" stroke="#000" stroke-width="1.1" />
<text transform="translate(464.22,253.50) rotate(-45) scale(0.2500,0.2500)" font-family='"Liberation Sans", sans-serif' font-size="27.60" font-weight="bold" fill="#000" text-anchor="end"  stroke="#000" stroke-width="0.55">TARC</text>
<rect x="472.36" y="227.93" width="4.95" height="10.27" fill="#1f3fa8" />
<rect x="477.16" y="231.23" width="4.95" height="6.97" fill="#9a3fa8" />
<rect x="481.96" y="237.62" width="4.80" height="0.58" fill="#e8182a" />
<line x1="479.56" y1="247.60" x2="479.56" y2="250.60" stroke="#000" stroke-width="1.1" />
<text transform="translate(482.46,253.50) rotate(-45) scale(0.2500,0.2500)" font-family='"Liberation Sans", sans-serif' font-size="27.60" font-weight="bold" fill="#000" text-anchor="end"  stroke="#000" stroke-width="0.55">ENA-78</text>
<line x1="306.80" y1="238.20" x2="488.50" y2="238.20" stroke="#000" stroke-width="0.8" stroke-dasharray="0.9 0.9"/>
<text transform="translate(287.20,205.30) rotate(-90) scale(0.2500,0.2500)" font-family='"Liberation Sans", sans-serif' font-size="24.52" font-weight="bold" fill="#000" text-anchor="middle"  stroke="#000" stroke-width="0.55">Relative fold change</text>
<text transform="translate(294.80,205.30) rotate(-90) scale(0.2500,0.2500)" font-family='"Liberation Sans", sans-serif' font-size="23.20" font-weight="normal" fill="#000" text-anchor="middle" >(relative to Isotype)</text>
<rect x="456.40" y="174.40" width="8.80" height="4.80" fill="#1f3fa8" />
<text transform="translate(468.80,179.20) scale(0.2500,0.2500)" font-family='"Liberation Sans", sans-serif' font-size="27.20" font-weight="normal" fill="#000" text-anchor="start" >Amivantamab</text>
<rect x="456.40" y="185.75" width="8.80" height="4.80" fill="#e8182a" />
<text transform="translate(468.80,190.55) scale(0.2500,0.2500)" font-family='"Liberation Sans", sans-serif' font-size="27.20" font-weight="normal" fill="#000" text-anchor="start" >IgG2σ</text>
<rect x="456.40" y="197.10" width="8.80" height="4.80" fill="#9a3fa8" />
<text transform="translate(468.80,201.90) scale(0.2500,0.2500)" font-family='"Liberation Sans", sans-serif' font-size="27.20" font-weight="normal" fill="#000" text-anchor="start" >Cetuximab</text>
<text transform="translate(0.40,289.20) scale(0.2375,0.2500)" font-family='"Liberation Sans", sans-serif' font-size="52.80" font-weight="bold" fill="#000" text-anchor="start" stroke="#000" stroke-width="1.2">E</text>
<rect x="19.20" y="282.60" width="33.80" height="14.40" fill="url(#cbar)" />
<polyline points="20.50,295.00 23.00,290.00 25.00,288.50 27.00,290.00 29.00,289.00 32.00,289.50 35.00,292.00 38.00,294.50 44.00,296.00 52.00,296.50" fill="none" stroke="#7fd0e8" stroke-width="0.3" opacity="0.6"/>
<text transform="translate(22.00,299.60) scale(0.2500,0.2500)" font-family='"Liberation Sans", sans-serif' font-size="7.20" font-weight="normal" fill="#777" text-anchor="middle" >-5</text>
<text transform="translate(29.40,299.60) scale(0.2500,0.2500)" font-family='"Liberation Sans", sans-serif' font-size="7.20" font-weight="normal" fill="#777" text-anchor="middle" >0</text>
<text transform="translate(36.80,299.60) scale(0.2500,0.2500)" font-family='"Liberation Sans", sans-serif' font-size="7.20" font-weight="normal" fill="#777" text-anchor="middle" >5</text>
<text transform="translate(44.20,299.60) scale(0.2500,0.2500)" font-family='"Liberation Sans", sans-serif' font-size="7.20" font-weight="normal" fill="#777" text-anchor="middle" >10</text>
<text transform="translate(51.60,299.60) scale(0.2500,0.2500)" font-family='"Liberation Sans", sans-serif' font-size="7.20" font-weight="normal" fill="#777" text-anchor="middle" >15</text>
<text transform="translate(36.00,301.60) scale(0.2500,0.2500)" font-family='"Liberation Sans", sans-serif' font-size="7.20" font-weight="normal" fill="#777" text-anchor="middle" >log2(x)</text>
<text transform="translate(17.20,290.50) rotate(-90) scale(0.2500,0.2500)" font-family='"Liberation Sans", sans-serif' font-size="6.40" font-weight="normal" fill="#777" text-anchor="middle" >Count</text>
<rect x="15.40" y="302.90" width="102.30" height="4.90" fill="#2fb5e6" />
<rect x="117.70" y="302.90" width="20.30" height="4.90" fill="#b2dca4" />
<rect x="138.60" y="302.90" width="20.30" height="4.90" fill="#f09474" />
<rect x="126.70" y="285.50" width="8.70" height="2.00" fill="#2fb5e6" />
<text transform="translate(139.40,288.45) scale(0.2500,0.2500)" font-family='"Liberation Sans", sans-serif' font-size="22.00" font-weight="normal" fill="#222" text-anchor="start" >CC</text>
<rect x="126.70" y="290.85" width="8.70" height="2.00" fill="#b2dca4" />
<text transform="translate(139.40,293.80) scale(0.2500,0.2500)" font-family='"Liberation Sans", sans-serif' font-size="22.00" font-weight="normal" fill="#222" text-anchor="start" >CXC</text>
<rect x="126.70" y="296.20" width="8.70" height="2.00" fill="#f09474" />
<text transform="translate(139.40,299.15) scale(0.2500,0.2500)" font-family='"Liberation Sans", sans-serif' font-size="22.00" font-weight="normal" fill="#222" text-anchor="start" >Interleukin</text>
<g clip-path="url(#clp4)">
<rect x="15.50" y="312.50" width="20.50" height="8.70" fill="#183466" />
<rect x="37.40" y="312.50" width="19.00" height="8.70" fill="#26368c" />
<rect x="58.20" y="312.50" width="18.70" height="8.70" fill="#2838a6" />
<rect x="78.40" y="312.50" width="19.00" height="8.70" fill="#7040ae" />
<rect x="99.10" y="312.50" width="18.60" height="8.70" fill="#4042b4" />
<rect x="119.40" y="312.50" width="18.80" height="8.70" fill="#137434" />
<rect x="140.00" y="312.50" width="19.30" height="8.70" fill="#2838a6" />
<rect x="15.50" y="320.60" width="20.50" height="8.70" fill="#0c5628" />
<rect x="37.40" y="320.60" width="19.00" height="8.70" fill="#a4c82c" />
<rect x="58.20" y="320.60" width="18.70" height="8.70" fill="#a4c82c" />
<rect x="78.40" y="320.60" width="19.00" height="8.70" fill="#a4c82c" />
<rect x="99.10" y="320.60" width="18.60" height="8.70" fill="#a4c82c" />
<rect x="119.40" y="320.60" width="18.80" height="8.70" fill="#d4dc28" />
<rect x="140.00" y="320.60" width="19.30" height="8.70" fill="#137434" />
<rect x="15.50" y="328.70" width="20.50" height="8.70" fill="#c0c0c0" />
<rect x="37.40" y="328.70" width="19.00" height="8.70" fill="#6cb436" />
<rect x="58.20" y="328.70" width="18.70" height="8.70" fill="#073c36" />
<rect x="78.40" y="328.70" width="19.00" height="8.70" fill="#137434" />
<rect x="99.10" y="328.70" width="18.60" height="8.70" fill="#137434" />
<rect x="119.40" y="328.70" width="18.80" height="8.70" fill="#a4c82c" />
<rect x="140.00" y="328.70" width="19.30" height="8.70" fill="#26368c" />
<rect x="15.50" y="336.80" width="20.50" height="8.70" fill="#c0c0c0" />
<rect x="37.40" y="336.80" width="19.00" height="8.70" fill="#137434" />
<rect x="58.20" y="336.80" width="18.70" height="8.70" fill="#2c40b6" />
<rect x="78.40" y="336.80" width="19.00" height="8.70" fill="#4042b4" />
<rect x="99.10" y="336.80" width="18.60" height="8.70" fill="#2c40b6" />
<rect x="119.40" y="336.80" width="18.80" height="8.70" fill="#2f9342" />
<rect x="140.00" y="336.80" width="19.30" height="8.70" fill="#2c40b6" />
</g>
<g clip-path="url(#clp5)">
<rect x="15.50" y="346.80" width="20.50" height="8.60" fill="#c0c0c0" />
<rect x="37.40" y="346.80" width="19.00" height="8.60" fill="#4042b4" />
<rect x="58.20" y="346.80" width="18.70" height="8.60" fill="#5440b0" />
<rect x="78.40" y="346.80" width="19.00" height="8.60" fill="#2c40b6" />
<rect x="99.10" y="346.80" width="18.60" height="8.60" fill="#5440b0" />
<rect x="119.40" y="346.80" width="18.80" height="8.60" fill="#5440b0" />
<rect x="140.00" y="346.80" width="19.30" height="8.60" fill="#4042b4" />
<rect x="15.50" y="354.80" width="20.50" height="8.60" fill="#c0c0c0" />
<rect x="37.40" y="354.80" width="19.00" height="8.60" fill="#2c40b6" />
<rect x="58.20" y="354.80" width="18.70" height="8.60" fill="#8c40a4" />
<rect x="78.40" y="354.80" width="19.00" height="8.60" fill="#2838a6" />
<rect x="99.10" y="354.80" width="18.60" height="8.60" fill="#2f9342" />
<rect x="119.40" y="354.80" width="18.80" height="8.60" fill="#073c36" />
<rect x="140.00" y="354.80" width="19.30" height="8.60" fill="#5440b0" />
<rect x="15.50" y="362.80" width="20.50" height="8.60" fill="#c0c0c0" />
<rect x="37.40" y="362.80" width="19.00" height="8.60" fill="#8c40a4" />
<rect x="58.20" y="362.80" width="18.70" height="8.60" fill="#c0c0c0" />
<rect x="78.40" y="362.80" width="19.00" height="8.60" fill="#0c5628" />
<rect x="99.10" y="362.80" width="18.60" height="8.60" fill="#183466" />
<rect x="119.40" y="362.80" width="18.80" height="8.60" fill="#183466" />
<rect x="140.00" y="362.80" width="19.30" height="8.60" fill="#7040ae" />
<rect x="15.50" y="370.80" width="20.50" height="8.60" fill="#c0c0c0" />
<rect x="37.40" y="370.80" width="19.00" height="8.60" fill="#7040ae" />
<rect x="58.20" y="370.80" width="18.70" height="8.60" fill="#2c40b6" />
<rect x="78.40" y="370.80" width="19.00" height="8.60" fill="#183466" />
<rect x="99.10" y="370.80" width="18.60" height="8.60" fill="#8c40a4" />
<rect x="119.40" y="370.80" width="18.80" height="8.60" fill="#2838a6" />
<rect x="140.00" y="370.80" width="19.30" height="8.60" fill="#8c40a4" />
</g>
<g clip-path="url(#clp6)">
<rect x="15.50" y="380.50" width="20.50" height="8.47" fill="#7040ae" />
<rect x="37.40" y="380.50" width="19.00" height="8.47" fill="#183466" />
<rect x="58.20" y="380.50" width="18.70" height="8.47" fill="#183466" />
<rect x="78.40" y="380.50" width="19.00" height="8.47" fill="#5440b0" />
<rect x="99.10" y="380.50" width="18.60" height="8.47" fill="#7040ae" />
<rect x="119.40" y="380.50" width="18.80" height="8.47" fill="#2c40b6" />
<rect x="140.00" y="380.50" width="19.30" height="8.47" fill="#183466" />
<rect x="15.50" y="388.38" width="20.50" height="8.47" fill="#5440b0" />
<rect x="37.40" y="388.38" width="19.00" height="8.47" fill="#0c5628" />
<rect x="58.20" y="388.38" width="18.70" height="8.47" fill="#2f9342" />
<rect x="78.40" y="388.38" width="19.00" height="8.47" fill="#6cb436" />
<rect x="99.10" y="388.38" width="18.60" height="8.47" fill="#073c36" />
<rect x="119.40" y="388.38" width="18.80" height="8.47" fill="#2c40b6" />
<rect x="140.00" y="388.38" width="19.30" height="8.47" fill="#ffe600" />
<rect x="15.50" y="396.25" width="20.50" height="8.47" fill="#2838a6" />
<rect x="37.40" y="396.25" width="19.00" height="8.47" fill="#2838a6" />
<rect x="58.20" y="396.25" width="18.70" height="8.47" fill="#137434" />
<rect x="78.40" y="396.25" width="19.00" height="8.47" fill="#26368c" />
<rect x="99.10" y="396.25" width="18.60" height="8.47" fill="#2c40b6" />
<rect x="119.40" y="396.25" width="18.80" height="8.47" fill="#7040ae" />
<rect x="140.00" y="396.25" width="19.30" height="8.47" fill="#6cb436" />
<rect x="15.50" y="404.12" width="20.50" height="8.47" fill="#2c40b6" />
<rect x="37.40" y="404.12" width="19.00" height="8.47" fill="#5440b0" />
<rect x="58.20" y="404.12" width="18.70" height="8.47" fill="#5440b0" />
<rect x="78.40" y="404.12" width="19.00" height="8.47" fill="#7040ae" />
<rect x="99.10" y="404.12" width="18.60" height="8.47" fill="#c0c0c0" />
<rect x="119.40" y="404.12" width="18.80" height="8.47" fill="#7040ae" />
<rect x="140.00" y="404.12" width="19.30" height="8.47" fill="#0c5628" />
</g>
<g clip-path="url(#clp7)">
<rect x="15.50" y="413.90" width="20.50" height="8.43" fill="#f8a422" />
<rect x="37.40" y="413.90" width="19.00" height="8.43" fill="#e95a1e" />
<rect x="58.20" y="413.90" width="18.70" height="8.43" fill="#e95a1e" />
<rect x="78.40" y="413.90" width="19.00" height="8.43" fill="#e95a1e" />
<rect x="99.10" y="413.90" width="18.60" height="8.43" fill="#f8a422" />
<rect x="119.40" y="413.90" width="18.80" height="8.43" fill="#e95a1e" />
<rect x="140.00" y="413.90" width="19.30" height="8.43" fill="#e95a1e" />
<rect x="15.50" y="421.73" width="20.50" height="8.43" fill="#e95a1e" />
<rect x="37.40" y="421.73" width="19.00" height="8.43" fill="#d91a22" />
<rect x="58.20" y="421.73" width="18.70" height="8.43" fill="#d91a22" />
<rect x="78.40" y="421.73" width="19.00" height="8.43" fill="#d91a22" />
<rect x="99.10" y="421.73" width="18.60" height="8.43" fill="#d91a22" />
<rect x="119.40" y="421.73" width="18.80" height="8.43" fill="#d91a22" />
<rect x="140.00" y="421.73" width="19.30" height="8.43" fill="#d91a22" />
<rect x="15.50" y="429.57" width="20.50" height="8.43" fill="#a4c82c" />
<rect x="37.40" y="429.57" width="19.00" height="8.43" fill="#d91a22" />
<rect x="58.20" y="429.57" width="18.70" height="8.43" fill="#d91a22" />
<rect x="78.40" y="429.57" width="19.00" height="8.43" fill="#d91a22" />
<rect x="99.10" y="429.57" width="18.60" height="8.43" fill="#e95a1e" />
<rect x="119.40" y="429.57" width="18.80" height="8.43" fill="#d91a22" />
<rect x="140.00" y="429.57" width="19.30" height="8.43" fill="#d91a22" />
</g>
<g clip-path="url(#clp8)">
<rect x="15.50" y="438.80" width="20.50" height="8.73" fill="#ffe600" />
<rect x="37.40" y="438.80" width="19.00" height="8.73" fill="#d4dc28" />
<rect x="58.20" y="438.80" width="18.70" height="8.73" fill="#d4dc28" />
<rect x="78.40" y="438.80" width="19.00" height="8.73" fill="#d4dc28" />
<rect x="99.10" y="438.80" width="18.60" height="8.73" fill="#d4dc28" />
<rect x="119.40" y="438.80" width="18.80" height="8.73" fill="#ffe600" />
<rect x="140.00" y="438.80" width="19.30" height="8.73" fill="#a4c82c" />
<rect x="15.50" y="446.93" width="20.50" height="8.73" fill="#d91a22" />
<rect x="37.40" y="446.93" width="19.00" height="8.73" fill="#f8a422" />
<rect x="58.20" y="446.93" width="18.70" height="8.73" fill="#f8a422" />
<rect x="78.40" y="446.93" width="19.00" height="8.73" fill="#f8a422" />
<rect x="99.10" y="446.93" width="18.60" height="8.73" fill="#d91a22" />
<rect x="119.40" y="446.93" width="18.80" height="8.73" fill="#f8a422" />
<rect x="140.00" y="446.93" width="19.30" height="8.73" fill="#f8a422" />
<rect x="15.50" y="455.07" width="20.50" height="8.73" fill="#2f9342" />
<rect x="37.40" y="455.07" width="19.00" height="8.73" fill="#ffe600" />
<rect x="58.20" y="455.07" width="18.70" height="8.73" fill="#ffe600" />
<rect x="78.40" y="455.07" width="19.00" height="8.73" fill="#ffe600" />
<rect x="99.10" y="455.07" width="18.60" height="8.73" fill="#ffe600" />
<rect x="119.40" y="455.07" width="18.80" height="8.73" fill="#c0c0c0" />
<rect x="140.00" y="455.07" width="19.30" height="8.73" fill="#d4dc28" />
</g>
<text transform="translate(26.70,468.30) rotate(-90) scale(0.2500,0.2500)" font-family='"Liberation Sans", sans-serif' font-size="24.60" font-weight="normal" fill="#111" text-anchor="end" stroke="#111" stroke-width="0.5">MIP-1α</text>
<text transform="translate(47.85,468.30) rotate(-90) scale(0.2500,0.2500)" font-family='"Liberation Sans", sans-serif' font-size="24.60" font-weight="normal" fill="#111" text-anchor="end" stroke="#111" stroke-width="0.5">MCP-2</text>
<text transform="translate(68.50,468.30) rotate(-90) scale(0.2500,0.2500)" font-family='"Liberation Sans", sans-serif' font-size="24.60" font-weight="normal" fill="#111" text-anchor="end" stroke="#111" stroke-width="0.5">MCP-3</text>
<text transform="translate(88.85,468.30) rotate(-90) scale(0.2500,0.2500)" font-family='"Liberation Sans", sans-serif' font-size="24.60" font-weight="normal" fill="#111" text-anchor="end" stroke="#111" stroke-width="0.5">MCP-1</text>
<text transform="translate(109.35,468.30) rotate(-90) scale(0.2500,0.2500)" font-family='"Liberation Sans", sans-serif' font-size="24.60" font-weight="normal" fill="#111" text-anchor="end" stroke="#111" stroke-width="0.5">MIP-1β</text>
<text transform="translate(129.75,468.30) rotate(-90) scale(0.2500,0.2500)" font-family='"Liberation Sans", sans-serif' font-size="24.60" font-weight="normal" fill="#111" text-anchor="end" stroke="#111" stroke-width="0.5">IP-10</text>
<text transform="translate(150.60,468.30) rotate(-90) scale(0.2500,0.2500)" font-family='"Liberation Sans", sans-serif' font-size="24.60" font-weight="normal" fill="#111" text-anchor="end" stroke="#111" stroke-width="0.5">IL-IRA</text>
<text transform="translate(162.20,318.25) scale(0.2500,0.2500)" font-family='"Liberation Sans", sans-serif' font-size="19.20" font-weight="normal" fill="#111" text-anchor="start" stroke="#111" stroke-width="0.35">H1975 + PBMC Isotype</text>
<text transform="translate(162.20,326.35) scale(0.2500,0.2500)" font-family='"Liberation Sans", sans-serif' font-size="19.20" font-weight="normal" fill="#111" text-anchor="start" stroke="#111" stroke-width="0.35">H1975 + PBMC Amivantamab</text>
<text transform="translate(162.20,334.45) scale(0.2500,0.2500)" font-family='"Liberation Sans", sans-serif' font-size="19.20" font-weight="normal" fill="#111" text-anchor="start" stroke="#111" stroke-width="0.35">H1975 + PBMC Cetuximab</text>
<text transform="translate(162.20,342.55) scale(0.2500,0.2500)" font-family='"Liberation Sans", sans-serif' font-size="19.20" font-weight="normal" fill="#111" text-anchor="start" stroke="#111" stroke-width="0.35">H1975 + PBMC IgG2σ</text>
<text transform="translate(162.20,352.50) scale(0.2500,0.2500)" font-family='"Liberation Sans", sans-serif' font-size="19.20" font-weight="normal" fill="#111" text-anchor="start" stroke="#111" stroke-width="0.35">H1975 + NK Isotype</text>
<text transform="translate(162.20,360.50) scale(0.2500,0.2500)" font-family='"Liberation Sans", sans-serif' font-size="19.20" font-weight="normal" fill="#111" text-anchor="start" stroke="#111" stroke-width="0.35">H1975 + NK Amivantamab</text>
<text transform="translate(162.20,368.50) scale(0.2500,0.2500)" font-family='"Liberation Sans", sans-serif' font-size="19.20" font-weight="normal" fill="#111" text-anchor="start" stroke="#111" stroke-width="0.35">H1975 + NK Cetuximab</text>
<text transform="translate(162.20,376.50) scale(0.2500,0.2500)" font-family='"Liberation Sans", sans-serif' font-size="19.20" font-weight="normal" fill="#111" text-anchor="start" stroke="#111" stroke-width="0.35">H1975 + NK IgG2σ</text>
<text transform="translate(162.20,386.14) scale(0.2500,0.2500)" font-family='"Liberation Sans", sans-serif' font-size="19.20" font-weight="normal" fill="#111" text-anchor="start" stroke="#111" stroke-width="0.35">H1975 + Monocyte Isotype</text>
<text transform="translate(162.20,394.01) scale(0.2500,0.2500)" font-family='"Liberation Sans", sans-serif' font-size="19.20" font-weight="normal" fill="#111" text-anchor="start" stroke="#111" stroke-width="0.35">H1975 + Monocyte Amivantamab</text>
<text transform="translate(162.20,401.89) scale(0.2500,0.2500)" font-family='"Liberation Sans", sans-serif' font-size="19.20" font-weight="normal" fill="#111" text-anchor="start" stroke="#111" stroke-width="0.35">H1975 + Monocyte Cetuximab</text>
<text transform="translate(162.20,409.76) scale(0.2500,0.2500)" font-family='"Liberation Sans", sans-serif' font-size="19.20" font-weight="normal" fill="#111" text-anchor="start" stroke="#111" stroke-width="0.35">H1975 + Monocyte IgG2σ</text>
<text transform="translate(162.20,419.52) scale(0.2500,0.2500)" font-family='"Liberation Sans", sans-serif' font-size="19.20" font-weight="normal" fill="#111" text-anchor="start" stroke="#111" stroke-width="0.35">H1975 + M1 Macrophage Isotype</text>
<text transform="translate(162.20,427.35) scale(0.2500,0.2500)" font-family='"Liberation Sans", sans-serif' font-size="19.20" font-weight="normal" fill="#111" text-anchor="start" stroke="#111" stroke-width="0.35">H1975 + M1 Macrophage Amivantamab</text>
<text transform="translate(162.20,435.18) scale(0.2500,0.2500)" font-family='"Liberation Sans", sans-serif' font-size="19.20" font-weight="normal" fill="#111" text-anchor="start" stroke="#111" stroke-width="0.35">H1975 + M1 Macrophage IgG2σ</text>
<text transform="translate(162.20,444.57) scale(0.2500,0.2500)" font-family='"Liberation Sans", sans-serif' font-size="19.20" font-weight="normal" fill="#111" text-anchor="start" stroke="#111" stroke-width="0.35">H1975 + M2C Macrophage Isotype</text>
<text transform="translate(162.20,452.70) scale(0.2500,0.2500)" font-family='"Liberation Sans", sans-serif' font-size="19.20" font-weight="normal" fill="#111" text-anchor="start" stroke="#111" stroke-width="0.35">H1975 + M2C Macrophage Amivantamab</text>
<text transform="translate(162.20,460.83) scale(0.2500,0.2500)" font-family='"Liberation Sans", sans-serif' font-size="19.20" font-weight="normal" fill="#111" text-anchor="start" stroke="#111" stroke-width="0.35">H1975 + M2C Macrophage IgG2σ</text>
<text transform="translate(270.90,289.30) scale(0.2375,0.2500)" font-family='"Liberation Sans", sans-serif' font-size="52.80" font-weight="bold" fill="#000" text-anchor="start" stroke="#000" stroke-width="1.2">F</text>
<text transform="translate(352.50,315.70) scale(0.2500,0.2500)" font-family='"DejaVu Sans", "Liberation Sans", sans-serif' font-size="27.60" font-weight="bold" fill="#000" text-anchor="end"  stroke="#000" stroke-width="0.55">Iso</text>
<text transform="translate(361.50,315.60) scale(0.2500,0.2500)" font-family='"DejaVu Sans", "Liberation Sans", sans-serif' font-size="27.20" font-weight="bold" fill="#000" text-anchor="middle"  stroke="#000" stroke-width="0.55">+</text>
<text transform="translate(378.30,315.60) scale(0.2500,0.2500)" font-family='"DejaVu Sans", "Liberation Sans", sans-serif' font-size="27.20" font-weight="bold" fill="#000" text-anchor="middle"  stroke="#000" stroke-width="0.55">+</text>
<line x1="392.90" y1="313.20" x2="396.70" y2="313.20" stroke="#000" stroke-width="1.1" />
<line x1="408.90" y1="313.20" x2="412.70" y2="313.20" stroke="#000" stroke-width="1.1" />
<line x1="425.60" y1="313.20" x2="429.40" y2="313.20" stroke="#000" stroke-width="1.1" />
<line x1="442.10" y1="313.20" x2="445.90" y2="313.20" stroke="#000" stroke-width="1.1" />
<text transform="translate(352.50,325.10) scale(0.2500,0.2500)" font-family='"DejaVu Sans", "Liberation Sans", sans-serif' font-size="27.60" font-weight="bold" fill="#1c2f86" text-anchor="end"  stroke="#1c2f86" stroke-width="0.55">Amivantamab</text>
<line x1="359.60" y1="322.60" x2="363.40" y2="322.60" stroke="#000" stroke-width="1.1" />
<line x1="376.40" y1="322.60" x2="380.20" y2="322.60" stroke="#000" stroke-width="1.1" />
<text transform="translate(394.80,325.00) scale(0.2500,0.2500)" font-family='"DejaVu Sans", "Liberation Sans", sans-serif' font-size="27.20" font-weight="bold" fill="#1c2f86" text-anchor="middle"  stroke="#1c2f86" stroke-width="0.55">+</text>
<text transform="translate(410.80,325.00) scale(0.2500,0.2500)" font-family='"DejaVu Sans", "Liberation Sans", sans-serif' font-size="27.20" font-weight="bold" fill="#1c2f86" text-anchor="middle"  stroke="#1c2f86" stroke-width="0.55">+</text>
<line x1="425.60" y1="322.60" x2="429.40" y2="322.60" stroke="#000" stroke-width="1.1" />
<line x1="442.10" y1="322.60" x2="445.90" y2="322.60" stroke="#000" stroke-width="1.1" />
<text transform="translate(352.50,335.30) scale(0.2500,0.2500)" font-family='"DejaVu Sans", "Liberation Sans", sans-serif' font-size="27.60" font-weight="bold" fill="#6b2c91" text-anchor="end"  stroke="#6b2c91" stroke-width="0.55">Cetuximab</text>
<line x1="359.60" y1="332.80" x2="363.40" y2="332.80" stroke="#000" stroke-width="1.1" />
<line x1="376.40" y1="332.80" x2="380.20" y2="332.80" stroke="#000" stroke-width="1.1" />
<line x1="392.90" y1="332.80" x2="396.70" y2="332.80" stroke="#000" stroke-width="1.1" />
<line x1="408.90" y1="332.80" x2="412.70" y2="332.80" stroke="#000" stroke-width="1.1" />
<text transform="translate(427.50,335.20) scale(0.2500,0.2500)" font-family='"DejaVu Sans", "Liberation Sans", sans-serif' font-size="27.20" font-weight="bold" fill="#6b2c91" text-anchor="middle"  stroke="#6b2c91" stroke-width="0.55">+</text>
<text transform="translate(444.00,335.20) scale(0.2500,0.2500)" font-family='"DejaVu Sans", "Liberation Sans", sans-serif' font-size="27.20" font-weight="bold" fill="#6b2c91" text-anchor="middle"  stroke="#6b2c91" stroke-width="0.55">+</text>
<text transform="translate(352.50,345.50) scale(0.2500,0.2500)" font-family='"DejaVu Sans", "Liberation Sans", sans-serif' font-size="27.60" font-weight="bold" fill="#1aa851" text-anchor="end"  stroke="#1aa851" stroke-width="0.55">PBMC</text>
<line x1="359.60" y1="343.00" x2="363.40" y2="343.00" stroke="#000" stroke-width="1.1" />
<text transform="translate(378.30,345.40) scale(0.2500,0.2500)" font-family='"DejaVu Sans", "Liberation Sans", sans-serif' font-size="27.20" font-weight="bold" fill="#1aa851" text-anchor="middle"  stroke="#1aa851" stroke-width="0.55">+</text>
<line x1="392.90" y1="343.00" x2="396.70" y2="343.00" stroke="#000" stroke-width="1.1" />
<text transform="translate(410.80,345.40) scale(0.2500,0.2500)" font-family='"DejaVu Sans", "Liberation Sans", sans-serif' font-size="27.20" font-weight="bold" fill="#1aa851" text-anchor="middle"  stroke="#1aa851" stroke-width="0.55">+</text>
<line x1="425.60" y1="343.00" x2="429.40" y2="343.00" stroke="#000" stroke-width="1.1" />
<text transform="translate(444.00,345.40) scale(0.2500,0.2500)" font-family='"DejaVu Sans", "Liberation Sans", sans-serif' font-size="27.20" font-weight="bold" fill="#1aa851" text-anchor="middle"  stroke="#1aa851" stroke-width="0.55">+</text>
<rect x="355.40" y="363.60" width="14.00" height="13.20" fill="url(#bg0)" />
<rect x="371.70" y="362.48" width="14.10" height="14.60" fill="url(#bg1)" />
<rect x="388.00" y="363.60" width="13.80" height="13.20" fill="url(#bg2)" />
<rect x="404.40" y="363.60" width="13.70" height="13.20" fill="url(#bg3)" />
<rect x="420.70" y="363.60" width="13.70" height="13.20" fill="url(#bg4)" />
<rect x="436.40" y="363.60" width="14.40" height="13.20" fill="url(#bg5)" />
<rect x="355.40" y="398.60" width="14.00" height="12.80" fill="url(#bg10)" />
<rect x="371.70" y="397.34" width="14.10" height="14.34" fill="url(#bg11)" />
<rect x="388.00" y="398.60" width="13.80" height="12.80" fill="url(#bg12)" />
<rect x="404.40" y="398.60" width="13.70" height="12.80" fill="url(#bg13)" />
<rect x="420.70" y="398.60" width="13.70" height="12.80" fill="url(#bg14)" />
<rect x="436.40" y="398.60" width="14.40" height="12.80" fill="url(#bg15)" />
<rect x="355.40" y="426.00" width="14.00" height="20.80" fill="url(#bg20)" />
<rect x="371.70" y="426.00" width="14.10" height="20.80" fill="url(#bg21)" />
<rect x="388.00" y="426.00" width="13.80" height="20.80" fill="url(#bg22)" />
<rect x="404.40" y="426.00" width="13.70" height="20.80" fill="url(#bg23)" />
<rect x="420.70" y="426.00" width="13.70" height="20.80" fill="url(#bg24)" />
<rect x="436.40" y="426.00" width="14.40" height="20.80" fill="url(#bg25)" />
<rect x="355.40" y="463.60" width="14.00" height="5.40" fill="#0a0a0a" rx="0.6"/>
<rect x="371.70" y="463.30" width="14.10" height="5.40" fill="#0a0a0a" rx="0.6"/>
<rect x="388.00" y="463.80" width="13.80" height="5.40" fill="#0a0a0a" rx="0.6"/>
<rect x="404.40" y="463.70" width="13.70" height="5.40" fill="#0a0a0a" rx="0.6"/>
<rect x="420.70" y="464.20" width="13.70" height="5.40" fill="#0a0a0a" rx="0.6"/>
<rect x="436.40" y="463.40" width="14.40" height="5.40" fill="#0a0a0a" rx="0.6"/>
<text transform="translate(338.60,373.30) scale(0.2500,0.2500)" font-family='"DejaVu Sans", "Liberation Sans", sans-serif' font-size="33.20" font-weight="bold" fill="#161a4a" text-anchor="end"  stroke="#161a4a" stroke-width="0.55">EGFR</text>
<text transform="translate(338.60,408.50) scale(0.2500,0.2500)" font-family='"DejaVu Sans", "Liberation Sans", sans-serif' font-size="33.20" font-weight="bold" fill="#161a4a" text-anchor="end"  stroke="#161a4a" stroke-width="0.55">pEGFR</text>
<text transform="translate(338.60,441.20) scale(0.2500,0.2500)" font-family='"DejaVu Sans", "Liberation Sans", sans-serif' font-size="33.20" font-weight="bold" fill="#161a4a" text-anchor="end"  stroke="#161a4a" stroke-width="0.55">cMet</text>
<text transform="translate(338.60,471.40) scale(0.2500,0.2500)" font-family='"DejaVu Sans", "Liberation Sans", sans-serif' font-size="33.20" font-weight="bold" fill="#161a4a" text-anchor="end"  stroke="#161a4a" stroke-width="0.55">Actin</text>
<text transform="translate(353.80,358.00) scale(0.2500,0.2500)" font-family='"Liberation Sans", sans-serif' font-size="18.00" font-weight="normal" fill="#333" text-anchor="end" >230-</text>
<text transform="translate(353.80,370.80) scale(0.2500,0.2500)" font-family='"Liberation Sans", sans-serif' font-size="18.00" font-weight="normal" fill="#333" text-anchor="end" >180-</text>
<text transform="translate(353.80,392.70) scale(0.2500,0.2500)" font-family='"Liberation Sans", sans-serif' font-size="18.00" font-weight="normal" fill="#333" text-anchor="end" >230-</text>
<text transform="translate(353.80,406.10) scale(0.2500,0.2500)" font-family='"Liberation Sans", sans-serif' font-size="18.00" font-weight="normal" fill="#333" text-anchor="end" >180-</text>
<text transform="translate(352.20,431.50) scale(0.2500,0.2500)" font-family='"Liberation Sans", sans-serif' font-size="18.00" font-weight="normal" fill="#333" text-anchor="end" >180</text>
<text transform="translate(352.20,452.50) scale(0.2500,0.2500)" font-family='"Liberation Sans", sans-serif' font-size="18.00" font-weight="normal" fill="#333" text-anchor="end" >116</text>
<text transform="translate(353.80,479.50) scale(0.2500,0.2500)" font-family='"Liberation Sans", sans-serif' font-size="18.00" font-weight="normal" fill="#333" text-anchor="end" >40-</text>
</svg>
</body></html>
